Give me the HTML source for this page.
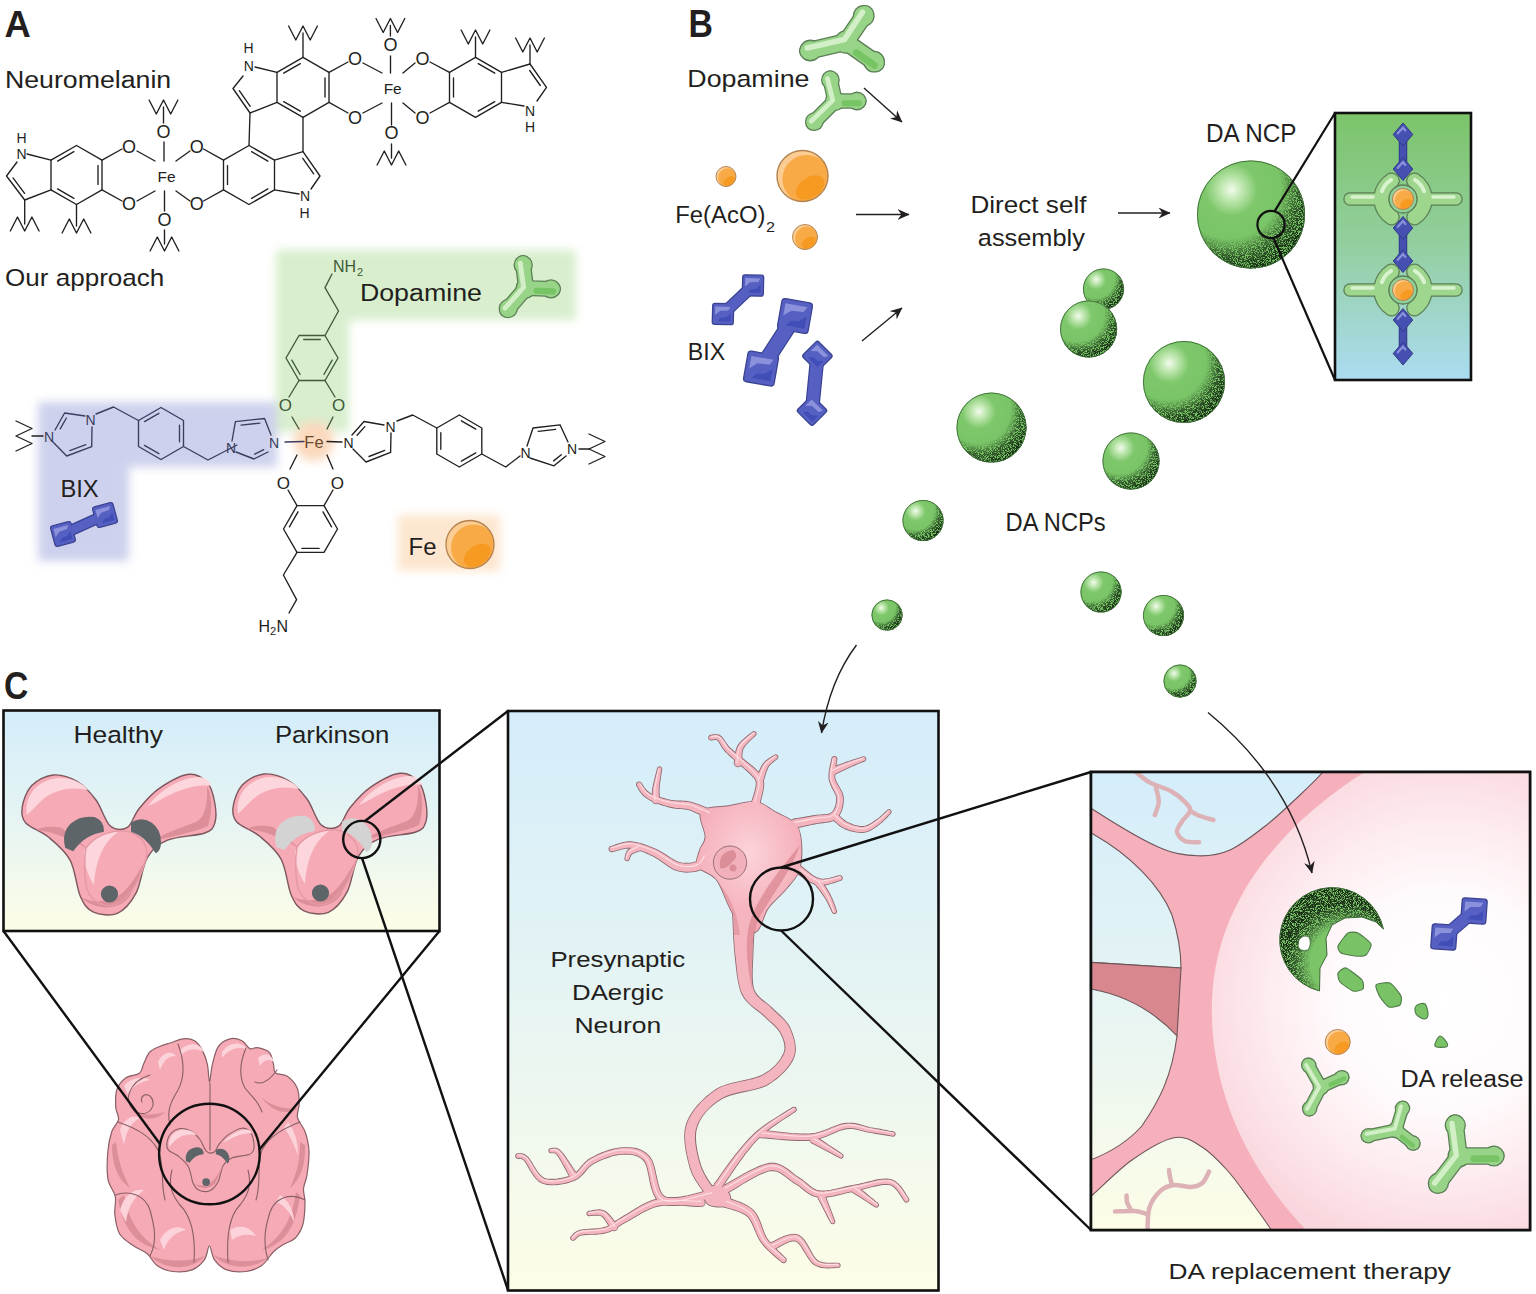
<!DOCTYPE html>
<html><head><meta charset="utf-8"><title>DA NCP figure</title>
<style>html,body{margin:0;padding:0;background:#fff;width:1536px;height:1294px;overflow:hidden} text{font-family:'Liberation Sans',sans-serif}</style>
</head><body>
<svg width="1536" height="1294" viewBox="0 0 1536 1294" style="display:block;font-family:'Liberation Sans',sans-serif">
<defs>
 <linearGradient id="bg" x1="0" y1="0" x2="0" y2="1">
  <stop offset="0" stop-color="#d4edfa"/>
  <stop offset="0.5" stop-color="#e6f4f3"/>
  <stop offset="1" stop-color="#fdfde7"/>
 </linearGradient>
 <linearGradient id="bgU" gradientUnits="userSpaceOnUse" x1="0" y1="772" x2="0" y2="1230">
  <stop offset="0" stop-color="#d4edfa"/>
  <stop offset="0.5" stop-color="#e6f4f3"/>
  <stop offset="1" stop-color="#fdfde7"/>
 </linearGradient>
 <linearGradient id="inset" x1="0" y1="0" x2="0" y2="1">
  <stop offset="0" stop-color="#7cc46a"/>
  <stop offset="0.5" stop-color="#93cfa0"/>
  <stop offset="1" stop-color="#abdcf2"/>
 </linearGradient>
 <radialGradient id="sph" cx="0.32" cy="0.27" r="0.8">
  <stop offset="0" stop-color="#f2fbec"/>
  <stop offset="0.12" stop-color="#c2e8b3"/>
  <stop offset="0.3" stop-color="#7ec86b"/>
  <stop offset="1" stop-color="#72bf5f"/>
 </radialGradient>
 <radialGradient id="shade" cx="0.3" cy="0.25" r="0.95">
  <stop offset="0" stop-color="#000" stop-opacity="0"/>
  <stop offset="0.5" stop-color="#000" stop-opacity="0"/>
  <stop offset="0.66" stop-color="#000" stop-opacity="0.65"/>
  <stop offset="0.82" stop-color="#000" stop-opacity="0.92"/>
  <stop offset="1" stop-color="#000" stop-opacity="1"/>
 </radialGradient>
 <filter id="stip" x="0" y="0" width="100%" height="100%" color-interpolation-filters="sRGB">
  <feTurbulence type="fractalNoise" baseFrequency="1.4" numOctaves="3" seed="7" result="n"/>
  <feColorMatrix in="n" type="matrix" values="0 0 0 0 0.06  0 0 0 0 0.13  0 0 0 0 0.06  -7 0 0 0 4.3" result="d"/>
  <feComposite in="d" in2="SourceAlpha" operator="in"/>
 </filter>
 <radialGradient id="fe" cx="0.38" cy="0.35" r="0.7">
  <stop offset="0" stop-color="#fcd9a6"/>
  <stop offset="0.35" stop-color="#f7ad4d"/>
  <stop offset="1" stop-color="#ef8a1f"/>
 </radialGradient>
 <radialGradient id="soma" gradientUnits="userSpaceOnUse" cx="1445" cy="1000" r="255">
  <stop offset="0" stop-color="#ffffff"/>
  <stop offset="0.42" stop-color="#fffbfc"/>
  <stop offset="0.7" stop-color="#fdebef"/>
  <stop offset="0.9" stop-color="#fbdee4"/>
  <stop offset="1" stop-color="#f9d6dd"/>
 </radialGradient>
 <radialGradient id="nsoma" cx="0.5" cy="0.4" r="0.6">
  <stop offset="0" stop-color="#fcd3da"/>
  <stop offset="1" stop-color="#f3a9b4"/>
 </radialGradient>
 <filter id="blur" x="-20%" y="-20%" width="140%" height="140%"><feGaussianBlur stdDeviation="5"/></filter>
 <filter id="blur2" x="-50%" y="-50%" width="200%" height="200%"><feGaussianBlur stdDeviation="8"/></filter>
 <marker id="arr" viewBox="0 0 10 10" refX="9.5" refY="5" markerWidth="12" markerHeight="12" markerUnits="userSpaceOnUse" orient="auto">
  <path d="M0,0.5 L10,5 L0,9.5 L3.2,5 z" fill="#231f20"/>
 </marker>
</defs>

<rect x="0" y="0" width="1536" height="1294" fill="#ffffff"/>
<g filter="url(#blur)">
<path d="M276,250 H576 V320 H349 V432 H276 Z" fill="#d8eecd"/>
<path d="M38,402 H277 V467 H129 V561 H38 Z" fill="#cdd1ed"/>
<rect x="398" y="515" width="102" height="56" fill="#fde6cf"/>
</g>
<circle cx="314" cy="441" r="20" fill="#fbd9bd" filter="url(#blur)"/>
<text x="4.42" y="36.50" font-size="37.00" font-weight="bold" fill="#231f20" textLength="26.28" lengthAdjust="spacingAndGlyphs">A</text>
<text x="4.90" y="88.10" font-size="24.41" font-weight="normal" fill="#231f20" textLength="166.32" lengthAdjust="spacingAndGlyphs">Neuromelanin</text>
<text x="4.92" y="285.70" font-size="23.63" font-weight="normal" fill="#231f20" textLength="159.48" lengthAdjust="spacingAndGlyphs">Our approach</text>
<polyline points="76.5,145.5 102.0,160.2 102.0,189.8 76.5,204.5 51.0,189.8 51.0,160.2 76.5,145.5" fill="none" stroke="#231f20" stroke-width="1.35" stroke-linejoin="round" stroke-linecap="round"/>
<line x1="57.6" y1="161.1" x2="73.9" y2="151.6" stroke="#231f20" stroke-width="1.35" stroke-linecap="round"/>
<line x1="98.0" y1="165.6" x2="98.0" y2="184.4" stroke="#231f20" stroke-width="1.35" stroke-linecap="round"/>
<line x1="73.9" y1="198.4" x2="57.6" y2="188.9" stroke="#231f20" stroke-width="1.35" stroke-linecap="round"/>
<polyline points="51.0,160.2 27.0,154.0" fill="none" stroke="#231f20" stroke-width="1.35" stroke-linejoin="round" stroke-linecap="round"/>
<text x="21.5" y="158.5" font-size="14" fill="#231f20" text-anchor="middle">N</text>
<text x="21.5" y="143.0" font-size="14" fill="#231f20" text-anchor="middle">H</text>
<polyline points="17.0,162.0 6.5,176.0 24.7,200.0 51.0,189.8" fill="none" stroke="#231f20" stroke-width="1.35" stroke-linejoin="round" stroke-linecap="round"/>
<line x1="13.0" y1="177.9" x2="24.6" y2="193.3" stroke="#231f20" stroke-width="1.35" stroke-linecap="round"/>
<line x1="24.7" y1="200.0" x2="24.7" y2="224.0" stroke="#231f20" stroke-width="1.35" stroke-linecap="round"/>
<polyline points="10.3,231.0 17.5,217.0 24.7,231.0 31.9,217.0 39.1,231.0" fill="none" stroke="#231f20" stroke-width="1.35" stroke-linejoin="round" stroke-linecap="round"/>
<line x1="76.5" y1="204.5" x2="76.5" y2="226.0" stroke="#231f20" stroke-width="1.35" stroke-linecap="round"/>
<polyline points="62.1,233.0 69.3,219.0 76.5,233.0 83.7,219.0 90.9,233.0" fill="none" stroke="#231f20" stroke-width="1.35" stroke-linejoin="round" stroke-linecap="round"/>
<line x1="102.0" y1="160.2" x2="122.0" y2="149.0" stroke="#231f20" stroke-width="1.35" stroke-linecap="round"/>
<line x1="102.0" y1="189.8" x2="122.0" y2="201.0" stroke="#231f20" stroke-width="1.35" stroke-linecap="round"/>
<text x="129.0" y="152.5" font-size="18" fill="#231f20" text-anchor="middle">O</text>
<text x="129.0" y="210.0" font-size="18" fill="#231f20" text-anchor="middle">O</text>
<text x="196.7" y="152.5" font-size="18" fill="#231f20" text-anchor="middle">O</text>
<text x="196.7" y="210.0" font-size="18" fill="#231f20" text-anchor="middle">O</text>
<text x="163.5" y="138.0" font-size="18" fill="#231f20" text-anchor="middle">O</text>
<text x="164.5" y="226.0" font-size="18" fill="#231f20" text-anchor="middle">O</text>
<text x="166.5" y="181.5" font-size="15.5" fill="#231f20" text-anchor="middle">Fe</text>
<line x1="137.0" y1="151.0" x2="155.0" y2="161.0" stroke="#231f20" stroke-width="1.35" stroke-linecap="round"/>
<line x1="176.0" y1="161.0" x2="190.0" y2="151.0" stroke="#231f20" stroke-width="1.35" stroke-linecap="round"/>
<line x1="137.0" y1="201.0" x2="155.0" y2="191.0" stroke="#231f20" stroke-width="1.35" stroke-linecap="round"/>
<line x1="176.0" y1="191.0" x2="190.0" y2="201.0" stroke="#231f20" stroke-width="1.35" stroke-linecap="round"/>
<line x1="164.0" y1="142.0" x2="164.0" y2="161.0" stroke="#231f20" stroke-width="1.35" stroke-linecap="round"/>
<line x1="164.5" y1="191.0" x2="164.5" y2="211.0" stroke="#231f20" stroke-width="1.35" stroke-linecap="round"/>
<line x1="163.5" y1="123.0" x2="163.5" y2="107.0" stroke="#231f20" stroke-width="1.35" stroke-linecap="round"/>
<polyline points="149.1,100.0 156.3,114.0 163.5,100.0 170.7,114.0 177.9,100.0" fill="none" stroke="#231f20" stroke-width="1.35" stroke-linejoin="round" stroke-linecap="round"/>
<line x1="164.5" y1="230.0" x2="164.5" y2="244.0" stroke="#231f20" stroke-width="1.35" stroke-linecap="round"/>
<polyline points="150.1,251.0 157.3,237.0 164.5,251.0 171.7,237.0 178.9,251.0" fill="none" stroke="#231f20" stroke-width="1.35" stroke-linejoin="round" stroke-linecap="round"/>
<line x1="223.5" y1="160.2" x2="203.5" y2="149.0" stroke="#231f20" stroke-width="1.35" stroke-linecap="round"/>
<line x1="223.5" y1="189.8" x2="203.5" y2="201.0" stroke="#231f20" stroke-width="1.35" stroke-linecap="round"/>
<polyline points="249.0,145.5 274.5,160.2 274.5,189.8 249.0,204.5 223.5,189.8 223.5,160.2 249.0,145.5" fill="none" stroke="#231f20" stroke-width="1.35" stroke-linejoin="round" stroke-linecap="round"/>
<line x1="227.5" y1="184.4" x2="227.5" y2="165.6" stroke="#231f20" stroke-width="1.35" stroke-linecap="round"/>
<line x1="251.6" y1="151.6" x2="267.9" y2="161.1" stroke="#231f20" stroke-width="1.35" stroke-linecap="round"/>
<line x1="267.9" y1="188.9" x2="251.6" y2="198.4" stroke="#231f20" stroke-width="1.35" stroke-linecap="round"/>
<polyline points="274.5,160.2 303.0,151.6 320.0,176.0 311.0,189.0" fill="none" stroke="#231f20" stroke-width="1.35" stroke-linejoin="round" stroke-linecap="round"/>
<line x1="302.8" y1="158.3" x2="313.7" y2="173.9" stroke="#231f20" stroke-width="1.35" stroke-linecap="round"/>
<text x="305.0" y="201.0" font-size="14" fill="#231f20" text-anchor="middle">N</text>
<text x="304.5" y="218.0" font-size="14" fill="#231f20" text-anchor="middle">H</text>
<line x1="299.0" y1="194.0" x2="274.5" y2="189.8" stroke="#231f20" stroke-width="1.35" stroke-linecap="round"/>
<line x1="249.0" y1="145.5" x2="250.0" y2="113.0" stroke="#231f20" stroke-width="1.35" stroke-linecap="round"/>
<line x1="303.0" y1="151.6" x2="303.0" y2="117.4" stroke="#231f20" stroke-width="1.35" stroke-linecap="round"/>
<polyline points="303.0,57.4 329.0,72.4 329.0,102.4 303.0,117.4 277.0,102.4 277.0,72.4 303.0,57.4" fill="none" stroke="#231f20" stroke-width="1.35" stroke-linejoin="round" stroke-linecap="round"/>
<line x1="283.7" y1="73.2" x2="300.3" y2="63.6" stroke="#231f20" stroke-width="1.35" stroke-linecap="round"/>
<line x1="325.0" y1="77.8" x2="325.0" y2="97.0" stroke="#231f20" stroke-width="1.35" stroke-linecap="round"/>
<line x1="300.3" y1="111.2" x2="283.7" y2="101.6" stroke="#231f20" stroke-width="1.35" stroke-linecap="round"/>
<polyline points="277.0,72.4 255.0,67.0" fill="none" stroke="#231f20" stroke-width="1.35" stroke-linejoin="round" stroke-linecap="round"/>
<text x="248.8" y="71.0" font-size="14" fill="#231f20" text-anchor="middle">N</text>
<text x="248.5" y="52.5" font-size="14" fill="#231f20" text-anchor="middle">H</text>
<polyline points="243.0,76.0 233.0,88.5 250.0,113.0 277.0,102.4" fill="none" stroke="#231f20" stroke-width="1.35" stroke-linejoin="round" stroke-linecap="round"/>
<line x1="239.3" y1="90.6" x2="250.2" y2="106.3" stroke="#231f20" stroke-width="1.35" stroke-linecap="round"/>
<line x1="303.0" y1="57.4" x2="303.0" y2="33.0" stroke="#231f20" stroke-width="1.35" stroke-linecap="round"/>
<polyline points="288.6,26.0 295.8,40.0 303.0,26.0 310.2,40.0 317.4,26.0" fill="none" stroke="#231f20" stroke-width="1.35" stroke-linejoin="round" stroke-linecap="round"/>
<line x1="329.0" y1="72.4" x2="348.0" y2="62.0" stroke="#231f20" stroke-width="1.35" stroke-linecap="round"/>
<line x1="329.0" y1="102.4" x2="348.0" y2="113.0" stroke="#231f20" stroke-width="1.35" stroke-linecap="round"/>
<text x="355.0" y="65.0" font-size="18" fill="#231f20" text-anchor="middle">O</text>
<text x="355.0" y="123.5" font-size="18" fill="#231f20" text-anchor="middle">O</text>
<text x="422.5" y="65.0" font-size="18" fill="#231f20" text-anchor="middle">O</text>
<text x="422.5" y="123.5" font-size="18" fill="#231f20" text-anchor="middle">O</text>
<text x="390.4" y="50.5" font-size="18" fill="#231f20" text-anchor="middle">O</text>
<text x="391.5" y="139.0" font-size="18" fill="#231f20" text-anchor="middle">O</text>
<text x="392.7" y="94.0" font-size="15.5" fill="#231f20" text-anchor="middle">Fe</text>
<line x1="363.0" y1="63.0" x2="382.0" y2="73.0" stroke="#231f20" stroke-width="1.35" stroke-linecap="round"/>
<line x1="403.0" y1="73.0" x2="415.0" y2="63.0" stroke="#231f20" stroke-width="1.35" stroke-linecap="round"/>
<line x1="363.0" y1="113.0" x2="382.0" y2="103.0" stroke="#231f20" stroke-width="1.35" stroke-linecap="round"/>
<line x1="403.0" y1="103.0" x2="415.0" y2="113.0" stroke="#231f20" stroke-width="1.35" stroke-linecap="round"/>
<line x1="390.5" y1="56.0" x2="390.5" y2="73.0" stroke="#231f20" stroke-width="1.35" stroke-linecap="round"/>
<line x1="391.5" y1="103.0" x2="391.5" y2="125.0" stroke="#231f20" stroke-width="1.35" stroke-linecap="round"/>
<line x1="390.4" y1="36.0" x2="390.4" y2="25.5" stroke="#231f20" stroke-width="1.35" stroke-linecap="round"/>
<polyline points="376.0,18.5 383.2,32.5 390.4,18.5 397.6,32.5 404.8,18.5" fill="none" stroke="#231f20" stroke-width="1.35" stroke-linejoin="round" stroke-linecap="round"/>
<line x1="391.5" y1="144.0" x2="391.5" y2="158.0" stroke="#231f20" stroke-width="1.35" stroke-linecap="round"/>
<polyline points="377.1,165.0 384.3,151.0 391.5,165.0 398.7,151.0 405.9,165.0" fill="none" stroke="#231f20" stroke-width="1.35" stroke-linejoin="round" stroke-linecap="round"/>
<line x1="430.0" y1="62.0" x2="449.5" y2="72.4" stroke="#231f20" stroke-width="1.35" stroke-linecap="round"/>
<line x1="430.0" y1="113.0" x2="449.5" y2="102.4" stroke="#231f20" stroke-width="1.35" stroke-linecap="round"/>
<polyline points="475.5,57.4 501.5,72.4 501.5,102.4 475.5,117.4 449.5,102.4 449.5,72.4 475.5,57.4" fill="none" stroke="#231f20" stroke-width="1.35" stroke-linejoin="round" stroke-linecap="round"/>
<line x1="453.5" y1="97.0" x2="453.5" y2="77.8" stroke="#231f20" stroke-width="1.35" stroke-linecap="round"/>
<line x1="478.2" y1="63.6" x2="494.8" y2="73.2" stroke="#231f20" stroke-width="1.35" stroke-linecap="round"/>
<line x1="494.8" y1="101.6" x2="478.2" y2="111.2" stroke="#231f20" stroke-width="1.35" stroke-linecap="round"/>
<polyline points="501.5,72.4 530.0,64.0 546.5,87.4 537.0,101.0" fill="none" stroke="#231f20" stroke-width="1.35" stroke-linejoin="round" stroke-linecap="round"/>
<line x1="529.7" y1="70.5" x2="540.3" y2="85.5" stroke="#231f20" stroke-width="1.35" stroke-linecap="round"/>
<text x="530.0" y="115.5" font-size="14" fill="#231f20" text-anchor="middle">N</text>
<text x="530.0" y="132.0" font-size="14" fill="#231f20" text-anchor="middle">H</text>
<line x1="524.0" y1="106.0" x2="501.5" y2="102.4" stroke="#231f20" stroke-width="1.35" stroke-linecap="round"/>
<line x1="475.5" y1="57.4" x2="475.5" y2="37.0" stroke="#231f20" stroke-width="1.35" stroke-linecap="round"/>
<polyline points="461.1,30.0 468.3,44.0 475.5,30.0 482.7,44.0 489.9,30.0" fill="none" stroke="#231f20" stroke-width="1.35" stroke-linejoin="round" stroke-linecap="round"/>
<line x1="530.0" y1="64.0" x2="530.0" y2="45.0" stroke="#231f20" stroke-width="1.35" stroke-linecap="round"/>
<polyline points="515.6,38.0 522.8,52.0 530.0,38.0 537.2,52.0 544.4,38.0" fill="none" stroke="#231f20" stroke-width="1.35" stroke-linejoin="round" stroke-linecap="round"/>
<polyline points="338.0,358.0 325.0,380.5 299.0,380.5 286.0,358.0 299.0,335.5 325.0,335.5 338.0,358.0" fill="none" stroke="#3f5a3a" stroke-width="1.35" stroke-linejoin="round" stroke-linecap="round"/>
<line x1="303.7" y1="339.5" x2="320.3" y2="339.5" stroke="#3f5a3a" stroke-width="1.35" stroke-linecap="round"/>
<line x1="300.1" y1="374.5" x2="291.8" y2="360.1" stroke="#3f5a3a" stroke-width="1.35" stroke-linecap="round"/>
<line x1="332.2" y1="360.1" x2="323.9" y2="374.5" stroke="#3f5a3a" stroke-width="1.35" stroke-linecap="round"/>
<polyline points="325.0,335.5 338.5,311.0 325.0,287.6 332.0,274.0" fill="none" stroke="#3f5a3a" stroke-width="1.35" stroke-linejoin="round" stroke-linecap="round"/>
<text x="333.0" y="272.0" font-size="16" fill="#3f5a3a" text-anchor="start">NH</text>
<text x="357.0" y="275.5" font-size="11" fill="#3f5a3a" text-anchor="start">2</text>
<line x1="299.0" y1="380.5" x2="289.0" y2="397.0" stroke="#3f5a3a" stroke-width="1.35" stroke-linecap="round"/>
<line x1="325.0" y1="380.5" x2="335.0" y2="397.0" stroke="#3f5a3a" stroke-width="1.35" stroke-linecap="round"/>
<text x="285.4" y="411.0" font-size="17" fill="#3f5a3a" text-anchor="middle">O</text>
<text x="338.6" y="411.0" font-size="17" fill="#3f5a3a" text-anchor="middle">O</text>
<line x1="292.0" y1="417.0" x2="299.0" y2="429.0" stroke="#3f5a3a" stroke-width="1.35" stroke-linecap="round"/>
<line x1="333.0" y1="417.0" x2="327.0" y2="429.0" stroke="#3f5a3a" stroke-width="1.35" stroke-linecap="round"/>
<text x="314.0" y="447.5" font-size="16.5" fill="#6b4a2e" text-anchor="middle">Fe</text>
<polyline points="337.5,529.0 324.0,552.4 297.0,552.4 283.5,529.0 297.0,505.6 324.0,505.6 337.5,529.0" fill="none" stroke="#231f20" stroke-width="1.35" stroke-linejoin="round" stroke-linecap="round"/>
<line x1="289.4" y1="526.8" x2="298.0" y2="511.8" stroke="#231f20" stroke-width="1.35" stroke-linecap="round"/>
<line x1="323.0" y1="511.8" x2="331.6" y2="526.8" stroke="#231f20" stroke-width="1.35" stroke-linecap="round"/>
<line x1="319.1" y1="548.4" x2="301.9" y2="548.4" stroke="#231f20" stroke-width="1.35" stroke-linecap="round"/>
<line x1="297.0" y1="505.6" x2="288.0" y2="490.0" stroke="#231f20" stroke-width="1.35" stroke-linecap="round"/>
<line x1="324.0" y1="505.6" x2="333.0" y2="490.0" stroke="#231f20" stroke-width="1.35" stroke-linecap="round"/>
<text x="283.4" y="488.5" font-size="17" fill="#231f20" text-anchor="middle">O</text>
<text x="337.4" y="488.5" font-size="17" fill="#231f20" text-anchor="middle">O</text>
<line x1="297.0" y1="455.0" x2="290.0" y2="469.0" stroke="#231f20" stroke-width="1.35" stroke-linecap="round"/>
<line x1="327.0" y1="455.0" x2="333.0" y2="469.0" stroke="#231f20" stroke-width="1.35" stroke-linecap="round"/>
<polyline points="297.0,552.4 283.4,575.0 296.6,599.6 289.0,613.0" fill="none" stroke="#231f20" stroke-width="1.35" stroke-linejoin="round" stroke-linecap="round"/>
<text x="258.5" y="632.0" font-size="16" fill="#231f20" text-anchor="start">H</text>
<text x="270.0" y="635.0" font-size="11" fill="#231f20" text-anchor="start">2</text>
<text x="276.5" y="632.0" font-size="16" fill="#231f20" text-anchor="start">N</text>
<line x1="327.0" y1="441.5" x2="342.0" y2="442.0" stroke="#231f20" stroke-width="1.35" stroke-linecap="round"/>
<text x="348.5" y="447.5" font-size="14" fill="#231f20" text-anchor="middle">N</text>
<polyline points="352.0,435.0 364.0,421.5 384.0,425.0" fill="none" stroke="#231f20" stroke-width="1.35" stroke-linejoin="round" stroke-linecap="round"/>
<line x1="357.1" y1="435.2" x2="364.8" y2="426.6" stroke="#231f20" stroke-width="1.35" stroke-linecap="round"/>
<text x="390.6" y="432.0" font-size="14" fill="#231f20" text-anchor="middle">N</text>
<polyline points="391.0,433.0 390.6,452.4 366.0,462.0 353.0,449.0" fill="none" stroke="#231f20" stroke-width="1.35" stroke-linejoin="round" stroke-linecap="round"/>
<line x1="384.7" y1="450.4" x2="369.0" y2="456.5" stroke="#231f20" stroke-width="1.35" stroke-linecap="round"/>
<polyline points="397.0,421.0 412.7,415.0 436.8,428.0" fill="none" stroke="#231f20" stroke-width="1.35" stroke-linejoin="round" stroke-linecap="round"/>
<polyline points="459.3,415.0 481.8,428.0 481.8,454.0 459.3,467.0 436.8,454.0 436.8,428.0 459.3,415.0" fill="none" stroke="#231f20" stroke-width="1.35" stroke-linejoin="round" stroke-linecap="round"/>
<line x1="461.4" y1="420.8" x2="475.8" y2="429.1" stroke="#231f20" stroke-width="1.35" stroke-linecap="round"/>
<line x1="475.8" y1="452.9" x2="461.4" y2="461.2" stroke="#231f20" stroke-width="1.35" stroke-linecap="round"/>
<line x1="440.8" y1="449.3" x2="440.8" y2="432.7" stroke="#231f20" stroke-width="1.35" stroke-linecap="round"/>
<polyline points="481.8,454.0 505.7,467.0 520.0,456.0" fill="none" stroke="#231f20" stroke-width="1.35" stroke-linejoin="round" stroke-linecap="round"/>
<text x="525.6" y="457.5" font-size="14" fill="#231f20" text-anchor="middle">N</text>
<polyline points="527.0,446.0 533.0,428.0 560.0,424.8 568.0,442.0" fill="none" stroke="#231f20" stroke-width="1.35" stroke-linejoin="round" stroke-linecap="round"/>
<line x1="538.3" y1="431.4" x2="555.6" y2="429.3" stroke="#231f20" stroke-width="1.35" stroke-linecap="round"/>
<text x="572.0" y="454.0" font-size="14" fill="#231f20" text-anchor="middle">N</text>
<polyline points="566.0,456.0 554.0,465.8 530.0,458.0" fill="none" stroke="#231f20" stroke-width="1.35" stroke-linejoin="round" stroke-linecap="round"/>
<line x1="561.3" y1="454.7" x2="553.6" y2="460.9" stroke="#231f20" stroke-width="1.35" stroke-linecap="round"/>
<line x1="579.0" y1="449.0" x2="590.0" y2="449.0" stroke="#231f20" stroke-width="1.35" stroke-linecap="round"/>
<polyline points="589.0,434.0 605.0,441.5 589.0,449.0 605.0,456.5 589.0,464.0" fill="none" stroke="#231f20" stroke-width="1.35" stroke-linejoin="round" stroke-linecap="round"/>
<line x1="285.0" y1="442.0" x2="304.0" y2="441.5" stroke="#3a3d5c" stroke-width="1.35" stroke-linecap="round"/>
<text x="274.0" y="447.5" font-size="14" fill="#3a3d5c" text-anchor="middle">N</text>
<polyline points="268.0,452.0 254.0,459.0 236.0,452.0" fill="none" stroke="#3a3d5c" stroke-width="1.35" stroke-linejoin="round" stroke-linecap="round"/>
<line x1="263.7" y1="449.7" x2="254.7" y2="454.2" stroke="#3a3d5c" stroke-width="1.35" stroke-linecap="round"/>
<text x="231.0" y="453.0" font-size="14" fill="#3a3d5c" text-anchor="middle">N</text>
<polyline points="232.0,441.0 235.4,421.7 264.6,418.5 271.0,435.0" fill="none" stroke="#3a3d5c" stroke-width="1.35" stroke-linejoin="round" stroke-linecap="round"/>
<line x1="241.1" y1="425.1" x2="259.8" y2="423.1" stroke="#3a3d5c" stroke-width="1.35" stroke-linecap="round"/>
<polyline points="237.0,445.0 208.0,460.0 183.5,446.5" fill="none" stroke="#3a3d5c" stroke-width="1.35" stroke-linejoin="round" stroke-linecap="round"/>
<polyline points="161.0,407.5 183.5,420.5 183.5,446.5 161.0,459.5 138.5,446.5 138.5,420.5 161.0,407.5" fill="none" stroke="#3a3d5c" stroke-width="1.35" stroke-linejoin="round" stroke-linecap="round"/>
<line x1="179.5" y1="425.2" x2="179.5" y2="441.8" stroke="#3a3d5c" stroke-width="1.35" stroke-linecap="round"/>
<line x1="158.9" y1="453.7" x2="144.5" y2="445.4" stroke="#3a3d5c" stroke-width="1.35" stroke-linecap="round"/>
<line x1="144.5" y1="421.6" x2="158.9" y2="413.3" stroke="#3a3d5c" stroke-width="1.35" stroke-linecap="round"/>
<polyline points="138.5,420.5 113.5,407.0 96.0,414.0" fill="none" stroke="#3a3d5c" stroke-width="1.35" stroke-linejoin="round" stroke-linecap="round"/>
<text x="90.6" y="425.0" font-size="14" fill="#3a3d5c" text-anchor="middle">N</text>
<polyline points="92.0,427.0 91.7,446.7 66.7,456.0 53.0,442.0" fill="none" stroke="#3a3d5c" stroke-width="1.35" stroke-linejoin="round" stroke-linecap="round"/>
<line x1="85.8" y1="444.6" x2="69.8" y2="450.6" stroke="#3a3d5c" stroke-width="1.35" stroke-linecap="round"/>
<text x="49.0" y="441.5" font-size="14" fill="#3a3d5c" text-anchor="middle">N</text>
<polyline points="55.0,430.0 64.6,413.0 85.0,416.0" fill="none" stroke="#3a3d5c" stroke-width="1.35" stroke-linejoin="round" stroke-linecap="round"/>
<line x1="60.2" y1="428.9" x2="66.4" y2="418.0" stroke="#3a3d5c" stroke-width="1.35" stroke-linecap="round"/>
<line x1="43.0" y1="436.0" x2="32.0" y2="436.0" stroke="#231f20" stroke-width="1.35" stroke-linecap="round"/>
<polyline points="16.0,421.0 32.0,428.5 16.0,436.0 32.0,443.5 16.0,451.0" fill="none" stroke="#231f20" stroke-width="1.35" stroke-linejoin="round" stroke-linecap="round"/>
<text x="359.90" y="300.90" font-size="24.02" font-weight="normal" fill="#231f20" textLength="122.06" lengthAdjust="spacingAndGlyphs">Dopamine</text>
<text x="60.40" y="496.70" font-size="24.15" font-weight="normal" fill="#231f20" textLength="38.30" lengthAdjust="spacingAndGlyphs">BIX</text>
<text x="408.60" y="554.60" font-size="24.28" font-weight="normal" fill="#231f20" textLength="27.92" lengthAdjust="spacingAndGlyphs">Fe</text>
<path d="M507.0,310.0 L526.0,288.0 L523.0,263.0 M526.0,288.0 L553.0,289.0" fill="none" stroke="#5b7f56" stroke-width="16.1" stroke-linecap="round" stroke-linejoin="round"/>
<circle cx="508.3" cy="308.5" r="9.7" fill="#5b7f56"/>
<circle cx="523.2" cy="265.0" r="9.7" fill="#5b7f56"/>
<circle cx="551.0" cy="288.9" r="9.7" fill="#5b7f56"/>
<circle cx="526.0" cy="288.0" r="10.5" fill="#5b7f56"/>
<path d="M507.0,310.0 L526.0,288.0 L523.0,263.0 M526.0,288.0 L553.0,289.0" fill="none" stroke="#98d487" stroke-width="13.5" stroke-linecap="round" stroke-linejoin="round"/>
<circle cx="508.3" cy="308.5" r="8.4" fill="#98d487"/>
<circle cx="523.2" cy="265.0" r="8.4" fill="#98d487"/>
<circle cx="551.0" cy="288.9" r="8.4" fill="#98d487"/>
<circle cx="526.0" cy="288.0" r="9.2" fill="#98d487"/>
<path d="M536.7,290.8 L552.9,291.4" fill="none" stroke="#72c25f" stroke-width="6.1" stroke-linecap="round" opacity="0.9"/>
<path d="M505.0,308.2 L523.6,287.3 L520.3,263.3" fill="none" stroke="#d5f0ca" stroke-width="4.9" stroke-linecap="round" stroke-linejoin="round" opacity="0.95"/>
<clipPath id="fec1"><circle cx="470" cy="544.5" r="24"/></clipPath>
<g clip-path="url(#fec1)">
<circle cx="470" cy="544.5" r="24" fill="#fbcd92"/>
<circle cx="473.8" cy="547.4" r="22.8" fill="#f8aa47"/>
<ellipse cx="477.2" cy="555.3" rx="14.9" ry="9.6" transform="rotate(-35 477.2 555.3)" fill="#f69a22"/>
</g>
<circle cx="470" cy="544.5" r="24" fill="none" stroke="#b4834f" stroke-width="1.3"/>
<line x1="63" y1="534" x2="105" y2="515" stroke="#3a4392" stroke-width="11.4"/>
<g transform="translate(63,534) rotate(-15.0)"><rect x="-10.5" y="-10.5" width="21.0" height="21.0" rx="2.3" fill="#5660c2" stroke="#3a4392" stroke-width="1.3"/></g>
<g transform="translate(105,515) rotate(-15.0)"><rect x="-10.5" y="-10.5" width="21.0" height="21.0" rx="2.3" fill="#5660c2" stroke="#3a4392" stroke-width="1.3"/></g>
<line x1="63" y1="534" x2="105" y2="515" stroke="#5660c2" stroke-width="9.0"/>
<g transform="translate(63,534) rotate(-15.0)"><path d="M-7.9,1.1 L-7.9,-7.3 L7.3,-7.3 L5.2,-3.7 L-3.1,-3.1 Z" fill="#9198de" opacity="0.9"/><path d="M7.9,-1.1 L7.9,7.3 L-5.2,7.3 L-2.1,3.7 L3.1,3.1 Z" fill="#3d4ab5" opacity="0.8"/></g>
<g transform="translate(105,515) rotate(-15.0)"><path d="M-7.9,1.1 L-7.9,-7.3 L7.3,-7.3 L5.2,-3.7 L-3.1,-3.1 Z" fill="#9198de" opacity="0.9"/><path d="M7.9,-1.1 L7.9,7.3 L-5.2,7.3 L-2.1,3.7 L3.1,3.1 Z" fill="#3d4ab5" opacity="0.8"/></g>
<text x="688.46" y="37.20" font-size="38.37" font-weight="bold" fill="#231f20" textLength="24.44" lengthAdjust="spacingAndGlyphs">B</text>
<text x="687.34" y="87.40" font-size="23.76" font-weight="normal" fill="#231f20" textLength="122.12" lengthAdjust="spacingAndGlyphs">Dopamine</text>
<path d="M808.0,51.0 L846.0,42.0 L865.0,14.0 M846.0,42.0 L876.0,63.0" fill="none" stroke="#5b7f56" stroke-width="18.1" stroke-linecap="round" stroke-linejoin="round"/>
<circle cx="810.3" cy="50.5" r="10.9" fill="#5b7f56"/>
<circle cx="863.7" cy="15.9" r="10.9" fill="#5b7f56"/>
<circle cx="874.1" cy="61.7" r="10.9" fill="#5b7f56"/>
<circle cx="846.0" cy="42.0" r="11.8" fill="#5b7f56"/>
<path d="M808.0,51.0 L846.0,42.0 L865.0,14.0 M846.0,42.0 L876.0,63.0" fill="none" stroke="#98d487" stroke-width="15.5" stroke-linecap="round" stroke-linejoin="round"/>
<circle cx="810.3" cy="50.5" r="9.6" fill="#98d487"/>
<circle cx="863.7" cy="15.9" r="9.6" fill="#98d487"/>
<circle cx="874.1" cy="61.7" r="9.6" fill="#98d487"/>
<circle cx="846.0" cy="42.0" r="10.5" fill="#98d487"/>
<path d="M856.4,52.7 L874.4,65.3" fill="none" stroke="#72c25f" stroke-width="7.0" stroke-linecap="round" opacity="0.9"/>
<path d="M807.3,48.0 L844.4,39.6 L862.4,12.3" fill="none" stroke="#d5f0ca" stroke-width="5.6" stroke-linecap="round" stroke-linejoin="round" opacity="0.95"/>
<path d="M813.0,123.0 L835.0,101.0 L830.0,78.0 M835.0,101.0 L859.0,101.0" fill="none" stroke="#5b7f56" stroke-width="15.6" stroke-linecap="round" stroke-linejoin="round"/>
<circle cx="814.4" cy="121.6" r="9.4" fill="#5b7f56"/>
<circle cx="830.4" cy="79.9" r="9.4" fill="#5b7f56"/>
<circle cx="857.0" cy="101.0" r="9.4" fill="#5b7f56"/>
<circle cx="835.0" cy="101.0" r="10.1" fill="#5b7f56"/>
<path d="M813.0,123.0 L835.0,101.0 L830.0,78.0 M835.0,101.0 L859.0,101.0" fill="none" stroke="#98d487" stroke-width="13.0" stroke-linecap="round" stroke-linejoin="round"/>
<circle cx="814.4" cy="121.6" r="8.1" fill="#98d487"/>
<circle cx="830.4" cy="79.9" r="8.1" fill="#98d487"/>
<circle cx="857.0" cy="101.0" r="8.1" fill="#98d487"/>
<circle cx="835.0" cy="101.0" r="8.8" fill="#98d487"/>
<path d="M844.6,103.3 L859.0,103.3" fill="none" stroke="#72c25f" stroke-width="5.9" stroke-linecap="round" opacity="0.9"/>
<path d="M811.2,121.2 L832.8,100.4 L827.5,78.6" fill="none" stroke="#d5f0ca" stroke-width="4.7" stroke-linecap="round" stroke-linejoin="round" opacity="0.95"/>
<clipPath id="fec2"><circle cx="726" cy="176.5" r="10"/></clipPath>
<g clip-path="url(#fec2)">
<circle cx="726" cy="176.5" r="10" fill="#fbcd92"/>
<circle cx="727.6" cy="177.7" r="9.5" fill="#f8aa47"/>
<ellipse cx="729.0" cy="181.0" rx="6.2" ry="4.0" transform="rotate(-35 729.0 181.0)" fill="#f69a22"/>
</g>
<circle cx="726" cy="176.5" r="10" fill="none" stroke="#b4834f" stroke-width="1.0"/>
<clipPath id="fec3"><circle cx="802.5" cy="176" r="25.5"/></clipPath>
<g clip-path="url(#fec3)">
<circle cx="802.5" cy="176" r="25.5" fill="#fbcd92"/>
<circle cx="806.6" cy="179.1" r="24.2" fill="#f8aa47"/>
<ellipse cx="810.1" cy="187.5" rx="15.8" ry="10.2" transform="rotate(-35 810.1 187.5)" fill="#f69a22"/>
</g>
<circle cx="802.5" cy="176" r="25.5" fill="none" stroke="#b4834f" stroke-width="1.4"/>
<clipPath id="fec4"><circle cx="805" cy="237" r="12.5"/></clipPath>
<g clip-path="url(#fec4)">
<circle cx="805" cy="237" r="12.5" fill="#fbcd92"/>
<circle cx="807.0" cy="238.5" r="11.9" fill="#f8aa47"/>
<ellipse cx="808.8" cy="242.6" rx="7.8" ry="5.0" transform="rotate(-35 808.8 242.6)" fill="#f69a22"/>
</g>
<circle cx="805" cy="237" r="12.5" fill="none" stroke="#b4834f" stroke-width="1.0"/>
<text x="675.22" y="223.30" font-size="24.41" font-weight="normal" fill="#231f20" textLength="90.18" lengthAdjust="spacingAndGlyphs">Fe(AcO)</text>
<text x="766" y="232" font-size="15.5" font-weight="normal" fill="#231f20" text-anchor="start" textLength="9" lengthAdjust="spacingAndGlyphs" >2</text>
<line x1="723" y1="314" x2="753" y2="285.5" stroke="#3a4392" stroke-width="12.4"/>
<g transform="translate(723,314) rotate(1.5)"><rect x="-10.5" y="-10.5" width="21.0" height="21.0" rx="2.3" fill="#5660c2" stroke="#3a4392" stroke-width="1.3"/></g>
<g transform="translate(753,285.5) rotate(1.5)"><rect x="-10.5" y="-10.5" width="21.0" height="21.0" rx="2.3" fill="#5660c2" stroke="#3a4392" stroke-width="1.3"/></g>
<line x1="723" y1="314" x2="753" y2="285.5" stroke="#5660c2" stroke-width="10.0"/>
<g transform="translate(723,314) rotate(1.5)"><path d="M-7.9,1.1 L-7.9,-7.3 L7.3,-7.3 L5.2,-3.7 L-3.1,-3.1 Z" fill="#9198de" opacity="0.9"/><path d="M7.9,-1.1 L7.9,7.3 L-5.2,7.3 L-2.1,3.7 L3.1,3.1 Z" fill="#3d4ab5" opacity="0.8"/></g>
<g transform="translate(753,285.5) rotate(1.5)"><path d="M-7.9,1.1 L-7.9,-7.3 L7.3,-7.3 L5.2,-3.7 L-3.1,-3.1 Z" fill="#9198de" opacity="0.9"/><path d="M7.9,-1.1 L7.9,7.3 L-5.2,7.3 L-2.1,3.7 L3.1,3.1 Z" fill="#3d4ab5" opacity="0.8"/></g>
<line x1="761" y1="368.6" x2="795" y2="316" stroke="#3a4392" stroke-width="16.4"/>
<g transform="translate(761,368.6) rotate(10.0)"><rect x="-15.5" y="-15.5" width="31.0" height="31.0" rx="3.4" fill="#5660c2" stroke="#3a4392" stroke-width="1.3"/></g>
<g transform="translate(795,316) rotate(10.0)"><rect x="-15.5" y="-15.5" width="31.0" height="31.0" rx="3.4" fill="#5660c2" stroke="#3a4392" stroke-width="1.3"/></g>
<line x1="761" y1="368.6" x2="795" y2="316" stroke="#5660c2" stroke-width="14.0"/>
<g transform="translate(761,368.6) rotate(10.0)"><path d="M-11.6,1.6 L-11.6,-10.8 L10.8,-10.8 L7.8,-5.4 L-4.6,-4.6 Z" fill="#9198de" opacity="0.9"/><path d="M11.6,-1.6 L11.6,10.8 L-7.8,10.8 L-3.1,5.4 L4.6,4.6 Z" fill="#3d4ab5" opacity="0.8"/></g>
<g transform="translate(795,316) rotate(10.0)"><path d="M-11.6,1.6 L-11.6,-10.8 L10.8,-10.8 L7.8,-5.4 L-4.6,-4.6 Z" fill="#9198de" opacity="0.9"/><path d="M11.6,-1.6 L11.6,10.8 L-7.8,10.8 L-3.1,5.4 L4.6,4.6 Z" fill="#3d4ab5" opacity="0.8"/></g>
<line x1="812" y1="410.7" x2="817.4" y2="356" stroke="#3a4392" stroke-width="14.4"/>
<g transform="translate(812,410.7) rotate(45.0)"><rect x="-11" y="-11" width="22" height="22" rx="2.4" fill="#5660c2" stroke="#3a4392" stroke-width="1.3"/></g>
<g transform="translate(817.4,356) rotate(45.0)"><rect x="-11" y="-11" width="22" height="22" rx="2.4" fill="#5660c2" stroke="#3a4392" stroke-width="1.3"/></g>
<line x1="812" y1="410.7" x2="817.4" y2="356" stroke="#5660c2" stroke-width="12.0"/>
<g transform="translate(812,410.7) rotate(45.0)"><path d="M-8.2,1.1 L-8.2,-7.7 L7.7,-7.7 L5.5,-3.8 L-3.3,-3.3 Z" fill="#9198de" opacity="0.9"/><path d="M8.2,-1.1 L8.2,7.7 L-5.5,7.7 L-2.2,3.8 L3.3,3.3 Z" fill="#3d4ab5" opacity="0.8"/></g>
<g transform="translate(817.4,356) rotate(45.0)"><path d="M-8.2,1.1 L-8.2,-7.7 L7.7,-7.7 L5.5,-3.8 L-3.3,-3.3 Z" fill="#9198de" opacity="0.9"/><path d="M8.2,-1.1 L8.2,7.7 L-5.5,7.7 L-2.2,3.8 L3.3,3.3 Z" fill="#3d4ab5" opacity="0.8"/></g>
<text x="687.84" y="359.90" font-size="24.81" font-weight="normal" fill="#231f20" textLength="37.36" lengthAdjust="spacingAndGlyphs">BIX</text>
<g stroke="#231f20" stroke-width="1.4" fill="none" marker-end="url(#arr)">
<line x1="864" y1="88" x2="902" y2="122"/>
<line x1="856" y1="214.5" x2="909" y2="214.5"/>
<line x1="862" y1="341" x2="902" y2="308"/>
<line x1="1118" y1="213" x2="1170" y2="213"/>
</g>
<text x="970.46" y="212.80" font-size="23.76" font-weight="normal" fill="#231f20" textLength="115.98" lengthAdjust="spacingAndGlyphs">Direct self</text>
<text x="977.86" y="246.00" font-size="23.76" font-weight="normal" fill="#231f20" textLength="106.96" lengthAdjust="spacingAndGlyphs">assembly</text>
<text x="1206.02" y="141.60" font-size="24.94" font-weight="normal" fill="#231f20" textLength="90.38" lengthAdjust="spacingAndGlyphs">DA NCP</text>
<circle cx="1251" cy="214.5" r="54" fill="url(#sph)"/>
<circle cx="1251" cy="214.5" r="54" fill="url(#shade)" filter="url(#stip)"/>
<circle cx="1251" cy="214.5" r="53.6" fill="none" stroke="#3f6b3a" stroke-width="0.9"/>
<circle cx="1103.5" cy="289" r="20.5" fill="url(#sph)"/>
<circle cx="1103.5" cy="289" r="20.5" fill="url(#shade)" filter="url(#stip)"/>
<circle cx="1103.5" cy="289" r="20.1" fill="none" stroke="#3f6b3a" stroke-width="0.9"/>
<circle cx="1088.6" cy="329" r="28.5" fill="url(#sph)"/>
<circle cx="1088.6" cy="329" r="28.5" fill="url(#shade)" filter="url(#stip)"/>
<circle cx="1088.6" cy="329" r="28.1" fill="none" stroke="#3f6b3a" stroke-width="0.9"/>
<circle cx="1184" cy="382" r="41" fill="url(#sph)"/>
<circle cx="1184" cy="382" r="41" fill="url(#shade)" filter="url(#stip)"/>
<circle cx="1184" cy="382" r="40.6" fill="none" stroke="#3f6b3a" stroke-width="0.9"/>
<circle cx="991.5" cy="427.6" r="35" fill="url(#sph)"/>
<circle cx="991.5" cy="427.6" r="35" fill="url(#shade)" filter="url(#stip)"/>
<circle cx="991.5" cy="427.6" r="34.6" fill="none" stroke="#3f6b3a" stroke-width="0.9"/>
<circle cx="1131" cy="461" r="28.5" fill="url(#sph)"/>
<circle cx="1131" cy="461" r="28.5" fill="url(#shade)" filter="url(#stip)"/>
<circle cx="1131" cy="461" r="28.1" fill="none" stroke="#3f6b3a" stroke-width="0.9"/>
<circle cx="923" cy="520.5" r="20.5" fill="url(#sph)"/>
<circle cx="923" cy="520.5" r="20.5" fill="url(#shade)" filter="url(#stip)"/>
<circle cx="923" cy="520.5" r="20.1" fill="none" stroke="#3f6b3a" stroke-width="0.9"/>
<circle cx="1101" cy="592" r="20.5" fill="url(#sph)"/>
<circle cx="1101" cy="592" r="20.5" fill="url(#shade)" filter="url(#stip)"/>
<circle cx="1101" cy="592" r="20.1" fill="none" stroke="#3f6b3a" stroke-width="0.9"/>
<circle cx="1163.5" cy="615.5" r="20.5" fill="url(#sph)"/>
<circle cx="1163.5" cy="615.5" r="20.5" fill="url(#shade)" filter="url(#stip)"/>
<circle cx="1163.5" cy="615.5" r="20.1" fill="none" stroke="#3f6b3a" stroke-width="0.9"/>
<circle cx="887" cy="615" r="15.5" fill="url(#sph)"/>
<circle cx="887" cy="615" r="15.5" fill="url(#shade)" filter="url(#stip)"/>
<circle cx="887" cy="615" r="15.1" fill="none" stroke="#3f6b3a" stroke-width="0.9"/>
<circle cx="1180" cy="681" r="16.5" fill="url(#sph)"/>
<circle cx="1180" cy="681" r="16.5" fill="url(#shade)" filter="url(#stip)"/>
<circle cx="1180" cy="681" r="16.1" fill="none" stroke="#3f6b3a" stroke-width="0.9"/>
<text x="1005.60" y="530.50" font-size="24.94" font-weight="normal" fill="#231f20" textLength="100.04" lengthAdjust="spacingAndGlyphs">DA NCPs</text>
<circle cx="1271" cy="224.5" r="13.6" fill="none" stroke="#111" stroke-width="2.2"/>
<line x1="1274.5" y1="211.3" x2="1335" y2="113" stroke="#111" stroke-width="2.2"/>
<line x1="1273.5" y1="238.2" x2="1335" y2="380" stroke="#111" stroke-width="2.2"/>
<rect x="1335" y="113" width="136" height="267" fill="url(#inset)" stroke="#111" stroke-width="2.6"/>
<line x1="1403" y1="134.5" x2="1403" y2="169" stroke="#303a8a" stroke-width="8.5"/>
<line x1="1403" y1="134.5" x2="1403" y2="169" stroke="#4650b0" stroke-width="6.5"/>
<path d="M1403,123.0 L1412.775,134.5 L1403,146.0 L1393.225,134.5 Z" fill="#4650b0" stroke="#303a8a" stroke-width="1" stroke-linejoin="round"/>
<path d="M1397.825,133.35 L1403,127.6 L1405.3,130.475" fill="none" stroke="#8b93dc" stroke-width="2.2" stroke-linecap="round"/>
<path d="M1403,157.5 L1412.775,169 L1403,180.5 L1393.225,169 Z" fill="#4650b0" stroke="#303a8a" stroke-width="1" stroke-linejoin="round"/>
<path d="M1397.825,167.85 L1403,162.1 L1405.3,164.975" fill="none" stroke="#8b93dc" stroke-width="2.2" stroke-linecap="round"/>
<path d="M1391.6,217.2 A21.5,21.5 0 0 1 1391.6,180.8" fill="none" stroke="#5b7f56" stroke-width="16.5" stroke-linecap="round"/>
<path d="M1350.0,199 L1381.5,199" fill="none" stroke="#5b7f56" stroke-width="13.5" stroke-linecap="round"/>
<path d="M1391.6,217.2 A21.5,21.5 0 0 1 1391.6,180.8" fill="none" stroke="#9dd68c" stroke-width="14" stroke-linecap="round"/>
<path d="M1350.0,199 L1381.5,199" fill="none" stroke="#9dd68c" stroke-width="11" stroke-linecap="round"/>
<path d="M1352.0,197 L1373.0,197" fill="none" stroke="#d9f2cf" stroke-width="3.5" stroke-linecap="round"/>
<path d="M1381.9,191.3 A22.5,22.5 0 0 1 1391.1,179.9" fill="none" stroke="#d9f2cf" stroke-width="4" stroke-linecap="round"/>
<path d="M1414.4,217.2 A21.5,21.5 0 0 0 1414.4,180.8" fill="none" stroke="#5b7f56" stroke-width="16.5" stroke-linecap="round"/>
<path d="M1456.0,199 L1424.5,199" fill="none" stroke="#5b7f56" stroke-width="13.5" stroke-linecap="round"/>
<path d="M1414.4,217.2 A21.5,21.5 0 0 0 1414.4,180.8" fill="none" stroke="#9dd68c" stroke-width="14" stroke-linecap="round"/>
<path d="M1456.0,199 L1424.5,199" fill="none" stroke="#9dd68c" stroke-width="11" stroke-linecap="round"/>
<path d="M1454.0,197 L1433.0,197" fill="none" stroke="#d9f2cf" stroke-width="3.5" stroke-linecap="round"/>
<path d="M1424.1,191.3 A22.5,22.5 0 0 0 1414.9,179.9" fill="none" stroke="#d9f2cf" stroke-width="4" stroke-linecap="round"/>
<circle cx="1403" cy="199" r="14" fill="#8fcf98" stroke="#5b7f56" stroke-width="1.3"/>
<clipPath id="fec5"><circle cx="1403" cy="199" r="10.5"/></clipPath>
<g clip-path="url(#fec5)">
<circle cx="1403" cy="199" r="10.5" fill="#fbcd92"/>
<circle cx="1404.7" cy="200.3" r="10.0" fill="#f8aa47"/>
<ellipse cx="1406.2" cy="203.7" rx="6.5" ry="4.2" transform="rotate(-35 1406.2 203.7)" fill="#f69a22"/>
</g>
<circle cx="1403" cy="199" r="10.5" fill="none" stroke="#b4834f" stroke-width="1.0"/>
<line x1="1403" y1="228" x2="1403" y2="261" stroke="#303a8a" stroke-width="8.5"/>
<line x1="1403" y1="228" x2="1403" y2="261" stroke="#4650b0" stroke-width="6.5"/>
<path d="M1403,216.5 L1412.775,228 L1403,239.5 L1393.225,228 Z" fill="#4650b0" stroke="#303a8a" stroke-width="1" stroke-linejoin="round"/>
<path d="M1397.825,226.85 L1403,221.1 L1405.3,223.975" fill="none" stroke="#8b93dc" stroke-width="2.2" stroke-linecap="round"/>
<path d="M1403,249.5 L1412.775,261 L1403,272.5 L1393.225,261 Z" fill="#4650b0" stroke="#303a8a" stroke-width="1" stroke-linejoin="round"/>
<path d="M1397.825,259.85 L1403,254.1 L1405.3,256.975" fill="none" stroke="#8b93dc" stroke-width="2.2" stroke-linecap="round"/>
<path d="M1391.6,308.2 A21.5,21.5 0 0 1 1391.6,271.8" fill="none" stroke="#5b7f56" stroke-width="16.5" stroke-linecap="round"/>
<path d="M1350.0,290 L1381.5,290" fill="none" stroke="#5b7f56" stroke-width="13.5" stroke-linecap="round"/>
<path d="M1391.6,308.2 A21.5,21.5 0 0 1 1391.6,271.8" fill="none" stroke="#9dd68c" stroke-width="14" stroke-linecap="round"/>
<path d="M1350.0,290 L1381.5,290" fill="none" stroke="#9dd68c" stroke-width="11" stroke-linecap="round"/>
<path d="M1352.0,288 L1373.0,288" fill="none" stroke="#d9f2cf" stroke-width="3.5" stroke-linecap="round"/>
<path d="M1381.9,282.3 A22.5,22.5 0 0 1 1391.1,270.9" fill="none" stroke="#d9f2cf" stroke-width="4" stroke-linecap="round"/>
<path d="M1414.4,308.2 A21.5,21.5 0 0 0 1414.4,271.8" fill="none" stroke="#5b7f56" stroke-width="16.5" stroke-linecap="round"/>
<path d="M1456.0,290 L1424.5,290" fill="none" stroke="#5b7f56" stroke-width="13.5" stroke-linecap="round"/>
<path d="M1414.4,308.2 A21.5,21.5 0 0 0 1414.4,271.8" fill="none" stroke="#9dd68c" stroke-width="14" stroke-linecap="round"/>
<path d="M1456.0,290 L1424.5,290" fill="none" stroke="#9dd68c" stroke-width="11" stroke-linecap="round"/>
<path d="M1454.0,288 L1433.0,288" fill="none" stroke="#d9f2cf" stroke-width="3.5" stroke-linecap="round"/>
<path d="M1424.1,282.3 A22.5,22.5 0 0 0 1414.9,270.9" fill="none" stroke="#d9f2cf" stroke-width="4" stroke-linecap="round"/>
<circle cx="1403" cy="290" r="14" fill="#8fcf98" stroke="#5b7f56" stroke-width="1.3"/>
<clipPath id="fec6"><circle cx="1403" cy="290" r="10.5"/></clipPath>
<g clip-path="url(#fec6)">
<circle cx="1403" cy="290" r="10.5" fill="#fbcd92"/>
<circle cx="1404.7" cy="291.3" r="10.0" fill="#f8aa47"/>
<ellipse cx="1406.2" cy="294.7" rx="6.5" ry="4.2" transform="rotate(-35 1406.2 294.7)" fill="#f69a22"/>
</g>
<circle cx="1403" cy="290" r="10.5" fill="none" stroke="#b4834f" stroke-width="1.0"/>
<line x1="1403" y1="320" x2="1403" y2="353.5" stroke="#303a8a" stroke-width="8.5"/>
<line x1="1403" y1="320" x2="1403" y2="353.5" stroke="#4650b0" stroke-width="6.5"/>
<path d="M1403,308.5 L1412.775,320 L1403,331.5 L1393.225,320 Z" fill="#4650b0" stroke="#303a8a" stroke-width="1" stroke-linejoin="round"/>
<path d="M1397.825,318.85 L1403,313.1 L1405.3,315.975" fill="none" stroke="#8b93dc" stroke-width="2.2" stroke-linecap="round"/>
<path d="M1403,342.0 L1412.775,353.5 L1403,365.0 L1393.225,353.5 Z" fill="#4650b0" stroke="#303a8a" stroke-width="1" stroke-linejoin="round"/>
<path d="M1397.825,352.35 L1403,346.6 L1405.3,349.475" fill="none" stroke="#8b93dc" stroke-width="2.2" stroke-linecap="round"/>
<text x="4.10" y="698.90" font-size="38.37" font-weight="bold" fill="#231f20" textLength="24.30" lengthAdjust="spacingAndGlyphs">C</text>
<rect x="3.5" y="710.5" width="436" height="220.5" fill="url(#bg)" stroke="#111" stroke-width="2.6"/>
<rect x="508" y="711" width="430.5" height="579.5" fill="url(#bg)" stroke="#111" stroke-width="2.6"/>
<rect x="1091" y="772" width="439" height="458" fill="url(#bg)" stroke="#111" stroke-width="2.6"/>
<text x="73.40" y="742.70" font-size="23.11" font-weight="normal" fill="#231f20" textLength="89.60" lengthAdjust="spacingAndGlyphs">Healthy</text>
<text x="274.90" y="742.70" font-size="23.11" font-weight="normal" fill="#231f20" textLength="114.38" lengthAdjust="spacingAndGlyphs">Parkinson</text>
<text x="550.40" y="966.60" font-size="21.80" font-weight="normal" fill="#231f20" textLength="134.74" lengthAdjust="spacingAndGlyphs">Presynaptic</text>
<text x="572.02" y="1000.40" font-size="21.80" font-weight="normal" fill="#231f20" textLength="91.68" lengthAdjust="spacingAndGlyphs">DAergic</text>
<text x="574.40" y="1033.20" font-size="21.80" font-weight="normal" fill="#231f20" textLength="86.94" lengthAdjust="spacingAndGlyphs">Neuron</text>
<text x="1168.46" y="1279.30" font-size="21.67" font-weight="normal" fill="#231f20" textLength="282.54" lengthAdjust="spacingAndGlyphs">DA replacement therapy</text>
<clipPath id="cb3"><rect x="1091" y="772" width="439" height="458"/></clipPath>
<g clip-path="url(#cb3)">
<rect x="1091" y="772" width="439" height="458" fill="#f5b0bc"/>
<path d="M1085.0,800.0 C1086.3,808.2 1080.9,801.7 1093.0,809.5 C1105.1,817.3 1140.2,839.0 1157.6,846.7 C1175.0,854.4 1185.5,855.2 1197.6,855.8 C1209.7,856.3 1218.5,855.1 1230.0,850.0 C1241.5,844.9 1254.9,834.2 1266.6,825.0 C1278.3,815.8 1290.6,803.8 1300.0,795.0 C1309.4,786.2 1318.0,777.8 1323.0,772.0 C1328.0,766.2 1369.7,762.0 1330.0,760.0 C1290.3,758.0 1125.8,753.3 1085.0,760.0 C1044.2,766.7 1083.7,791.8 1085.0,800.0 Z" fill="url(#bgU)" stroke="#6e5558" stroke-width="1.1"/>
<path d="M1085,830 L1093,834 C1130,855 1160,885 1172,915 C1180,940 1181,955 1181,968 L1085,962 Z" fill="url(#bgU)" stroke="#6e5558" stroke-width="1.1"/>
<path d="M1085,962 L1181,968 L1177,1036 Q1140,998 1085,988 Z" fill="#d8878f" stroke="#6e5558" stroke-width="1.1"/>
<path d="M1085,988 Q1140,996 1177,1036 C1172,1075 1160,1100 1141.8,1126 C1125,1145 1105,1155 1085,1162 Z" fill="url(#bgU)" stroke="#6e5558" stroke-width="1.1"/>
<path d="M1085.0,1200.0 C1086.3,1192.4 1085.2,1201.2 1093.0,1194.5 C1100.8,1187.8 1118.5,1169.5 1132.0,1160.0 C1145.5,1150.5 1162.3,1139.9 1174.0,1137.7 C1185.7,1135.5 1193.2,1141.6 1202.0,1147.0 C1210.8,1152.4 1219.0,1161.2 1227.0,1170.0 C1235.0,1178.8 1242.4,1189.7 1250.0,1200.0 C1257.6,1210.3 1268.7,1225.3 1272.4,1232.0 C1276.1,1238.7 1303.2,1238.7 1272.0,1240.0 C1240.8,1241.3 1116.2,1246.7 1085.0,1240.0 C1053.8,1233.3 1083.7,1207.6 1085.0,1200.0 Z" fill="url(#bgU)" stroke="#6e5558" stroke-width="1.1"/>
<path d="M1368,770 C1290,818 1216,895 1212,1000 C1209,1090 1248,1170 1308,1232 L1535,1232 L1535,770 Z" fill="url(#soma)"/>
<path d="M1136.0,772.0 C1138.3,773.7 1143.6,779.1 1149.6,782.4 C1155.5,785.6 1165.6,788.1 1171.7,791.5 C1177.8,794.9 1183.0,799.8 1186.0,803.0 C1189.0,806.2 1190.7,807.9 1190.0,811.0 C1189.3,814.1 1184.2,818.0 1182.0,821.5 C1179.8,825.0 1176.5,828.8 1177.0,832.0 C1177.5,835.2 1181.0,839.3 1184.7,841.0 C1188.4,842.7 1196.6,842.1 1199.0,842.3" fill="none" stroke="#dcb2b6" stroke-width="4.5" stroke-linecap="round"/>
<path d="M1156.0,787.6 C1156.5,790.0 1158.9,797.4 1158.7,802.0 C1158.5,806.6 1155.5,812.8 1154.8,815.0" fill="none" stroke="#dcb2b6" stroke-width="4.5" stroke-linecap="round"/>
<path d="M1190.0,811.0 C1191.7,811.8 1196.1,814.5 1200.0,816.0 C1203.9,817.5 1211.2,819.3 1213.4,820.0" fill="none" stroke="#dcb2b6" stroke-width="4.5" stroke-linecap="round"/>
<path d="M1147.5,1232.0 C1147.8,1228.0 1147.2,1214.6 1149.4,1207.7 C1151.6,1200.8 1156.6,1194.5 1160.7,1190.7 C1164.8,1186.9 1169.0,1185.6 1174.0,1185.0 C1179.0,1184.4 1186.3,1187.3 1191.0,1187.0 C1195.7,1186.7 1199.4,1185.5 1202.4,1183.0 C1205.4,1180.5 1207.9,1173.6 1209.0,1171.7" fill="none" stroke="#dcb2b6" stroke-width="4.5" stroke-linecap="round"/>
<path d="M1172.0,1185.0 C1171.7,1183.7 1170.5,1179.5 1170.0,1177.0 C1169.5,1174.5 1169.2,1171.2 1169.0,1170.0" fill="none" stroke="#dcb2b6" stroke-width="4.5" stroke-linecap="round"/>
<path d="M1147.0,1214.0 C1145.0,1213.5 1140.3,1211.4 1135.0,1211.0 C1129.7,1210.6 1118.3,1211.4 1115.0,1211.5" fill="none" stroke="#dcb2b6" stroke-width="4.5" stroke-linecap="round"/>
<path d="M1131.0,1210.0 C1130.3,1208.7 1127.7,1204.4 1127.0,1202.0 C1126.3,1199.6 1126.7,1196.5 1126.6,1195.4" fill="none" stroke="#dcb2b6" stroke-width="4.5" stroke-linecap="round"/>
</g>
<rect x="1091" y="772" width="439" height="458" fill="none" stroke="#111" stroke-width="2.6"/>
<radialGradient id="bshade" gradientUnits="userSpaceOnUse" cx="1345" cy="962" r="58"><stop offset="0" stop-color="#000" stop-opacity="0"/><stop offset="0.6" stop-color="#000" stop-opacity="0"/><stop offset="0.8" stop-color="#000" stop-opacity="0.55"/><stop offset="1" stop-color="#000" stop-opacity="0.9"/></radialGradient>
<path d="M1383.5,929 A52.5,52.5 0 1 0 1319.5,991 L1320,968 L1327,955 L1326,938 L1332,925 L1345,918 L1362,917 L1376,922 Z" fill="#7bc467"/>
<path d="M1383.5,929 A52.5,52.5 0 1 0 1319.5,991 L1320,968 L1327,955 L1326,938 L1332,925 L1345,918 L1362,917 L1376,922 Z" fill="url(#bshade)" filter="url(#stip)"/>
<path d="M1383.5,929 A52.5,52.5 0 1 0 1319.5,991 L1320,968 L1327,955 L1326,938 L1332,925 L1345,918 L1362,917 L1376,922 Z" fill="none" stroke="#3d6a38" stroke-width="1"/>
<path d="M1299,940 Q1303,934 1309,937 Q1312,944 1308,950 Q1300,952 1298,946 Z" fill="#ffffff" stroke="#3d6a38" stroke-width="0.8"/>
<path d="M1338.0,946.0 C1338.7,944.0 1346.0,934.3 1348.0,933.0 C1350.0,931.7 1355.7,931.9 1358.0,933.0 C1360.3,934.1 1370.2,941.8 1371.0,944.0 C1371.8,946.2 1367.6,953.8 1366.0,955.0 C1364.4,956.2 1357.5,956.2 1355.0,956.0 C1352.5,955.8 1342.7,954.0 1341.0,953.0 C1339.3,952.0 1337.3,948.0 1338.0,946.0 Z" fill="#79c266" stroke="#4e7b48" stroke-width="1.1" stroke-linejoin="round"/>
<path d="M1338.0,973.0 C1338.6,971.6 1343.6,967.3 1346.0,968.0 C1348.4,968.7 1360.3,977.9 1362.0,980.0 C1363.7,982.1 1363.9,987.9 1363.0,989.0 C1362.1,990.1 1355.3,991.7 1353.0,991.0 C1350.7,990.3 1341.5,983.8 1340.0,982.0 C1338.5,980.2 1337.4,974.4 1338.0,973.0 Z" fill="#79c266" stroke="#4e7b48" stroke-width="1.1" stroke-linejoin="round"/>
<path d="M1376.0,985.0 C1377.0,983.6 1387.5,981.9 1390.0,983.0 C1392.5,984.1 1400.0,993.8 1401.0,996.0 C1402.0,998.2 1401.2,1003.9 1400.0,1005.0 C1398.8,1006.1 1391.0,1007.8 1389.0,1007.0 C1387.0,1006.2 1381.3,999.2 1380.0,997.0 C1378.7,994.8 1375.0,986.4 1376.0,985.0 Z" fill="#79c266" stroke="#4e7b48" stroke-width="1.1" stroke-linejoin="round"/>
<path d="M1416.0,1006.0 C1417.5,1004.3 1423.0,1002.5 1425.0,1004.0 C1427.0,1005.5 1428.2,1012.5 1428.0,1015.0 C1427.8,1017.5 1426.0,1019.2 1424.0,1019.0 C1422.0,1018.8 1417.3,1016.2 1416.0,1014.0 C1414.7,1011.8 1414.5,1007.7 1416.0,1006.0 Z" fill="#79c266" stroke="#4e7b48" stroke-width="1.1" stroke-linejoin="round"/>
<path d="M1435.0,1046.0 C1434.0,1044.2 1438.0,1036.5 1440.0,1036.0 C1442.0,1035.5 1446.0,1041.2 1447.0,1043.0 C1448.0,1044.8 1448.0,1046.5 1446.0,1047.0 C1444.0,1047.5 1436.0,1047.8 1435.0,1046.0 Z" fill="#79c266" stroke="#4e7b48" stroke-width="1.1" stroke-linejoin="round"/>
<line x1="1444" y1="937" x2="1474" y2="911" stroke="#3a4392" stroke-width="13.4"/>
<g transform="translate(1444,937) rotate(4.1)"><rect x="-12.5" y="-12.5" width="25.0" height="25.0" rx="2.8" fill="#5660c2" stroke="#3a4392" stroke-width="1.3"/></g>
<g transform="translate(1474,911) rotate(4.1)"><rect x="-12.5" y="-12.5" width="25.0" height="25.0" rx="2.8" fill="#5660c2" stroke="#3a4392" stroke-width="1.3"/></g>
<line x1="1444" y1="937" x2="1474" y2="911" stroke="#5660c2" stroke-width="11.0"/>
<g transform="translate(1444,937) rotate(4.1)"><path d="M-9.4,1.2 L-9.4,-8.8 L8.8,-8.8 L6.2,-4.4 L-3.8,-3.8 Z" fill="#9198de" opacity="0.9"/><path d="M9.4,-1.2 L9.4,8.8 L-6.2,8.8 L-2.5,4.4 L3.8,3.8 Z" fill="#3d4ab5" opacity="0.8"/></g>
<g transform="translate(1474,911) rotate(4.1)"><path d="M-9.4,1.2 L-9.4,-8.8 L8.8,-8.8 L6.2,-4.4 L-3.8,-3.8 Z" fill="#9198de" opacity="0.9"/><path d="M9.4,-1.2 L9.4,8.8 L-6.2,8.8 L-2.5,4.4 L3.8,3.8 Z" fill="#3d4ab5" opacity="0.8"/></g>
<clipPath id="fec7"><circle cx="1337.7" cy="1042" r="12.5"/></clipPath>
<g clip-path="url(#fec7)">
<circle cx="1337.7" cy="1042" r="12.5" fill="#fbcd92"/>
<circle cx="1339.7" cy="1043.5" r="11.9" fill="#f8aa47"/>
<ellipse cx="1341.5" cy="1047.6" rx="7.8" ry="5.0" transform="rotate(-35 1341.5 1047.6)" fill="#f69a22"/>
</g>
<circle cx="1337.7" cy="1042" r="12.5" fill="none" stroke="#b4834f" stroke-width="1.0"/>
<path d="M1309.0,1110.0 L1321.0,1087.0 L1308.0,1064.0 M1321.0,1087.0 L1343.0,1077.0" fill="none" stroke="#5b7f56" stroke-width="13.1" stroke-linecap="round" stroke-linejoin="round"/>
<circle cx="1309.7" cy="1108.6" r="7.8" fill="#5b7f56"/>
<circle cx="1308.8" cy="1065.4" r="7.8" fill="#5b7f56"/>
<circle cx="1341.6" cy="1077.7" r="7.8" fill="#5b7f56"/>
<circle cx="1321.0" cy="1087.0" r="8.4" fill="#5b7f56"/>
<path d="M1309.0,1110.0 L1321.0,1087.0 L1308.0,1064.0 M1321.0,1087.0 L1343.0,1077.0" fill="none" stroke="#98d487" stroke-width="10.5" stroke-linecap="round" stroke-linejoin="round"/>
<circle cx="1309.7" cy="1108.6" r="6.5" fill="#98d487"/>
<circle cx="1308.8" cy="1065.4" r="6.5" fill="#98d487"/>
<circle cx="1341.6" cy="1077.7" r="6.5" fill="#98d487"/>
<circle cx="1321.0" cy="1087.0" r="7.1" fill="#98d487"/>
<path d="M1330.6,1084.7 L1343.8,1078.7" fill="none" stroke="#72c25f" stroke-width="4.7" stroke-linecap="round" opacity="0.9"/>
<path d="M1307.1,1109.0 L1319.2,1087.0 L1306.2,1065.0" fill="none" stroke="#d5f0ca" stroke-width="3.8" stroke-linecap="round" stroke-linejoin="round" opacity="0.95"/>
<path d="M1367.0,1136.0 L1396.0,1130.0 L1403.0,1107.0 M1396.0,1130.0 L1414.0,1144.0" fill="none" stroke="#5b7f56" stroke-width="13.1" stroke-linecap="round" stroke-linejoin="round"/>
<circle cx="1368.5" cy="1135.7" r="7.8" fill="#5b7f56"/>
<circle cx="1402.5" cy="1108.5" r="7.8" fill="#5b7f56"/>
<circle cx="1412.8" cy="1143.0" r="7.8" fill="#5b7f56"/>
<circle cx="1396.0" cy="1130.0" r="8.4" fill="#5b7f56"/>
<path d="M1367.0,1136.0 L1396.0,1130.0 L1403.0,1107.0 M1396.0,1130.0 L1414.0,1144.0" fill="none" stroke="#98d487" stroke-width="10.5" stroke-linecap="round" stroke-linejoin="round"/>
<circle cx="1368.5" cy="1135.7" r="6.5" fill="#98d487"/>
<circle cx="1402.5" cy="1108.5" r="6.5" fill="#98d487"/>
<circle cx="1412.8" cy="1143.0" r="6.5" fill="#98d487"/>
<circle cx="1396.0" cy="1130.0" r="7.1" fill="#98d487"/>
<path d="M1402.0,1137.1 L1412.8,1145.5" fill="none" stroke="#72c25f" stroke-width="4.7" stroke-linecap="round" opacity="0.9"/>
<path d="M1366.6,1133.9 L1394.8,1128.7 L1401.0,1106.4" fill="none" stroke="#d5f0ca" stroke-width="3.8" stroke-linecap="round" stroke-linejoin="round" opacity="0.95"/>
<path d="M1437.0,1185.0 L1459.0,1156.0 L1455.0,1123.0 M1459.0,1156.0 L1496.0,1156.0" fill="none" stroke="#5b7f56" stroke-width="17.6" stroke-linecap="round" stroke-linejoin="round"/>
<circle cx="1438.4" cy="1183.2" r="10.6" fill="#5b7f56"/>
<circle cx="1455.3" cy="1125.2" r="10.6" fill="#5b7f56"/>
<circle cx="1493.8" cy="1156.0" r="10.6" fill="#5b7f56"/>
<circle cx="1459.0" cy="1156.0" r="11.5" fill="#5b7f56"/>
<path d="M1437.0,1185.0 L1459.0,1156.0 L1455.0,1123.0 M1459.0,1156.0 L1496.0,1156.0" fill="none" stroke="#98d487" stroke-width="15.0" stroke-linecap="round" stroke-linejoin="round"/>
<circle cx="1438.4" cy="1183.2" r="9.3" fill="#98d487"/>
<circle cx="1455.3" cy="1125.2" r="9.3" fill="#98d487"/>
<circle cx="1493.8" cy="1156.0" r="9.3" fill="#98d487"/>
<circle cx="1459.0" cy="1156.0" r="10.2" fill="#98d487"/>
<path d="M1473.8,1158.7 L1496.0,1158.7" fill="none" stroke="#72c25f" stroke-width="6.8" stroke-linecap="round" opacity="0.9"/>
<path d="M1434.6,1183.2 L1456.3,1155.3 L1452.0,1123.4" fill="none" stroke="#d5f0ca" stroke-width="5.4" stroke-linecap="round" stroke-linejoin="round" opacity="0.95"/>
<text x="1400.40" y="1087.20" font-size="24.02" font-weight="normal" fill="#231f20" textLength="123.12" lengthAdjust="spacingAndGlyphs">DA release</text>
<path d="M856.5,645 Q830,680 821.5,733" fill="none" stroke="#231f20" stroke-width="1.4" marker-end="url(#arr)"/>
<path d="M1208,712.5 Q1290,780 1312,873" fill="none" stroke="#231f20" stroke-width="1.4" marker-end="url(#arr)"/>
<g>
<path d="M710.6,810.0 L709.2,809.4 L707.2,808.6 L704.9,807.6 L702.2,806.5 L699.4,805.3 L696.5,804.2 L693.6,803.3 L690.9,802.5 L688.3,802.0 L685.8,801.7 L683.4,801.5 L681.1,801.4 L678.8,801.4 L676.7,801.3 L674.6,801.1 L672.6,800.9 L670.5,800.5 L668.3,800.0 L666.0,799.5 L663.8,798.9 L661.7,798.3 L659.7,797.7 L657.8,797.1 L656.0,796.5 L654.5,795.8 L653.1,795.2 L651.8,794.6 L650.6,794.0 L649.6,793.4 L648.6,792.7 L647.6,792.0 L646.7,791.2 L645.8,790.4 L645.0,789.4 L644.1,788.3 L643.3,787.1 L642.6,786.0 L641.9,784.9 L641.3,784.0 L640.8,783.3 L640.0,782.5 L638.9,782.3 L637.8,782.7 L637.0,783.5 L636.8,784.6 L637.2,785.7 L637.5,786.3 L638.1,787.2 L638.7,788.4 L639.4,789.6 L640.3,791.0 L641.2,792.3 L642.2,793.6 L643.3,794.8 L644.4,795.8 L645.5,796.7 L646.7,797.6 L648.0,798.4 L649.3,799.2 L650.7,800.0 L652.3,800.8 L654.0,801.5 L655.8,802.3 L657.8,803.1 L659.9,803.8 L662.2,804.6 L664.5,805.3 L666.8,806.0 L669.1,806.6 L671.4,807.1 L673.8,807.6 L676.1,807.9 L678.4,808.1 L680.7,808.2 L682.9,808.4 L685.0,808.6 L687.1,809.0 L689.1,809.5 L691.3,810.2 L693.8,811.2 L696.4,812.4 L699.1,813.6 L701.6,814.8 L703.9,815.9 L705.9,816.9 L707.4,817.6 Z" fill="#8d6a70" stroke="#8d6a70" stroke-width="1.7" stroke-linejoin="round"/>
<path d="M659.4,799.9 L659.3,799.0 L659.2,797.8 L659.0,796.5 L658.9,795.1 L658.8,793.5 L658.7,791.8 L658.7,790.1 L658.8,788.3 L658.9,786.2 L659.2,783.7 L659.6,781.0 L660.0,778.2 L660.4,775.5 L660.8,773.0 L661.1,770.9 L661.4,769.4 L661.3,768.4 L660.8,767.6 L660.0,767.2 L659.0,767.3 L658.2,767.8 L657.8,768.6 L657.5,770.1 L656.9,772.2 L656.3,774.6 L655.6,777.3 L654.9,780.1 L654.2,782.9 L653.7,785.4 L653.2,787.7 L653.0,789.7 L652.8,791.7 L652.7,793.6 L652.6,795.3 L652.6,796.8 L652.6,798.2 L652.6,799.3 L652.6,800.1 Z" fill="#8d6a70" stroke="#8d6a70" stroke-width="1.7" stroke-linejoin="round"/>
<path d="M759.6,802.9 L760.0,801.6 L760.4,799.7 L761.1,797.4 L761.7,794.8 L762.3,792.1 L762.9,789.4 L763.3,786.9 L763.4,784.6 L763.3,782.7 L763.1,781.1 L762.8,779.6 L762.2,778.1 L761.5,776.7 L760.6,775.4 L759.6,774.1 L758.4,772.6 L756.9,771.0 L755.0,769.2 L753.0,767.5 L750.8,765.7 L748.6,763.9 L746.4,762.2 L744.4,760.5 L742.4,758.9 L740.6,757.3 L738.7,755.8 L736.8,754.3 L735.0,752.9 L733.3,751.4 L731.7,750.0 L730.1,748.7 L728.8,747.4 L727.6,746.0 L726.6,744.6 L725.6,743.1 L724.6,741.6 L723.6,740.1 L722.7,738.7 L721.6,737.4 L720.2,736.2 L718.7,735.4 L717.2,735.1 L715.7,735.0 L714.3,735.1 L713.1,735.2 L712.1,735.4 L711.4,735.6 L710.9,735.6 L709.9,735.9 L709.2,736.7 L709.0,737.7 L709.3,738.7 L710.1,739.4 L711.1,739.6 L711.9,739.6 L712.8,739.4 L713.7,739.3 L714.7,739.2 L715.6,739.1 L716.5,739.2 L717.2,739.4 L717.8,739.8 L718.4,740.4 L719.1,741.3 L719.9,742.5 L720.7,744.0 L721.6,745.6 L722.7,747.2 L723.8,749.0 L725.2,750.6 L726.7,752.2 L728.3,753.7 L729.9,755.3 L731.7,756.8 L733.4,758.4 L735.2,759.9 L737.0,761.5 L738.8,763.1 L740.7,764.8 L742.7,766.6 L744.9,768.4 L747.0,770.3 L749.0,772.1 L750.8,773.8 L752.3,775.4 L753.6,776.8 L754.6,778.0 L755.3,779.1 L755.9,780.0 L756.2,780.7 L756.4,781.3 L756.5,782.1 L756.6,783.1 L756.6,784.4 L756.4,786.0 L756.1,788.1 L755.5,790.4 L754.8,792.9 L754.1,795.4 L753.4,797.7 L752.8,799.6 L752.4,801.1 Z" fill="#8d6a70" stroke="#8d6a70" stroke-width="1.7" stroke-linejoin="round"/>
<path d="M741.4,763.3 L741.4,762.0 L741.5,760.2 L741.5,758.2 L741.5,756.1 L741.6,753.9 L741.9,751.8 L742.3,749.9 L742.9,748.3 L743.9,746.7 L745.3,744.8 L747.0,742.9 L748.9,741.0 L750.8,739.2 L752.6,737.5 L754.1,736.1 L755.2,735.0 L755.7,734.2 L755.8,733.3 L755.3,732.5 L754.5,732.0 L753.6,731.9 L752.8,732.4 L751.7,733.3 L750.1,734.5 L748.1,736.0 L746.0,737.7 L743.8,739.6 L741.7,741.5 L739.8,743.6 L738.3,745.7 L737.2,748.1 L736.4,750.6 L735.8,753.1 L735.4,755.6 L735.2,757.9 L735.0,759.9 L734.8,761.5 L734.6,762.7 Z" fill="#8d6a70" stroke="#8d6a70" stroke-width="1.7" stroke-linejoin="round"/>
<path d="M763.1,780.2 L763.5,779.0 L764.0,777.4 L764.6,775.6 L765.2,773.6 L765.8,771.5 L766.6,769.6 L767.3,767.8 L768.0,766.5 L768.9,765.3 L770.0,764.1 L771.2,762.9 L772.5,761.8 L773.8,760.8 L775.0,759.9 L776.1,759.1 L776.9,758.4 L777.4,757.7 L777.6,756.8 L777.2,755.9 L776.5,755.4 L775.6,755.2 L774.7,755.6 L774.0,756.1 L772.9,756.7 L771.5,757.5 L770.0,758.4 L768.5,759.5 L766.9,760.7 L765.3,762.0 L764.0,763.5 L762.7,765.3 L761.6,767.2 L760.6,769.3 L759.6,771.4 L758.7,773.4 L758.0,775.3 L757.3,776.7 L756.9,777.8 Z" fill="#8d6a70" stroke="#8d6a70" stroke-width="1.7" stroke-linejoin="round"/>
<path d="M795.8,827.5 L797.3,827.2 L799.4,826.8 L801.8,826.3 L804.6,825.7 L807.4,825.1 L810.3,824.4 L813.1,823.8 L815.7,823.3 L818.0,822.9 L820.4,822.6 L823.1,822.3 L825.8,822.0 L828.5,821.6 L831.2,820.9 L833.8,819.9 L836.2,818.3 L838.1,816.2 L839.6,813.9 L840.8,811.4 L841.7,808.8 L842.4,806.0 L842.8,803.3 L843.0,800.5 L843.0,797.7 L842.4,794.9 L841.4,792.1 L840.1,789.6 L838.7,787.1 L837.3,784.7 L836.0,782.4 L835.1,780.2 L834.6,778.2 L834.3,776.0 L834.4,773.4 L834.6,770.7 L835.0,768.0 L835.5,765.4 L835.9,763.0 L836.3,760.9 L836.6,759.4 L836.5,758.2 L835.8,757.3 L834.8,756.8 L833.6,756.9 L832.7,757.6 L832.2,758.6 L832.0,760.1 L831.5,762.1 L830.9,764.5 L830.4,767.2 L829.8,770.1 L829.5,773.1 L829.3,776.1 L829.4,779.0 L830.1,781.9 L831.2,784.6 L832.4,787.3 L833.8,789.8 L835.0,792.2 L836.1,794.4 L836.8,796.4 L837.0,798.3 L837.0,800.3 L836.7,802.5 L836.3,804.7 L835.7,806.9 L834.9,808.9 L833.9,810.6 L832.9,812.1 L831.8,813.1 L830.7,813.8 L829.2,814.4 L827.3,814.7 L825.0,815.0 L822.5,815.2 L819.8,815.3 L817.0,815.6 L814.3,815.9 L811.7,816.4 L808.9,816.9 L805.9,817.4 L803.1,817.9 L800.3,818.4 L797.8,818.8 L795.8,819.2 L794.2,819.5 Z" fill="#8d6a70" stroke="#8d6a70" stroke-width="1.7" stroke-linejoin="round"/>
<path d="M834.3,774.1 L835.6,773.5 L837.4,772.7 L839.5,771.7 L841.8,770.6 L844.2,769.4 L846.6,768.3 L848.9,767.2 L850.9,766.3 L852.8,765.5 L854.8,764.6 L856.7,763.8 L858.6,763.0 L860.4,762.3 L862.0,761.7 L863.3,761.1 L864.3,760.7 L865.1,760.2 L865.5,759.3 L865.4,758.4 L864.9,757.6 L864.0,757.2 L863.1,757.3 L862.0,757.6 L860.7,758.0 L859.0,758.5 L857.2,759.1 L855.2,759.7 L853.2,760.3 L851.1,761.0 L849.1,761.7 L846.9,762.4 L844.6,763.3 L842.0,764.2 L839.5,765.1 L837.1,765.9 L834.9,766.7 L833.1,767.4 L831.7,767.9 Z" fill="#8d6a70" stroke="#8d6a70" stroke-width="1.7" stroke-linejoin="round"/>
<path d="M831.7,818.2 L832.6,818.9 L833.7,820.0 L835.1,821.3 L836.7,822.7 L838.5,824.2 L840.5,825.7 L842.5,827.1 L844.7,828.2 L846.9,829.1 L849.1,829.9 L851.6,830.6 L854.1,831.2 L856.6,831.7 L859.1,832.0 L861.6,832.1 L864.0,831.9 L866.3,831.5 L868.5,830.7 L870.5,829.7 L872.5,828.6 L874.3,827.4 L876.0,826.2 L877.7,824.9 L879.3,823.7 L880.9,822.4 L882.6,821.0 L884.2,819.4 L885.8,817.8 L887.2,816.3 L888.4,815.0 L889.5,813.9 L890.3,813.1 L890.7,812.3 L890.7,811.4 L890.3,810.5 L889.5,810.1 L888.6,810.1 L887.7,810.5 L886.9,811.3 L885.8,812.4 L884.5,813.7 L883.0,815.0 L881.5,816.5 L879.9,817.9 L878.3,819.1 L876.7,820.3 L875.1,821.3 L873.4,822.5 L871.8,823.5 L870.1,824.5 L868.4,825.4 L866.7,826.1 L865.1,826.6 L863.4,826.9 L861.6,826.9 L859.7,826.7 L857.5,826.3 L855.4,825.8 L853.2,825.2 L851.1,824.4 L849.1,823.6 L847.3,822.8 L845.7,821.9 L844.2,820.7 L842.6,819.4 L841.1,818.0 L839.6,816.6 L838.3,815.2 L837.2,814.1 L836.3,813.2 Z" fill="#8d6a70" stroke="#8d6a70" stroke-width="1.7" stroke-linejoin="round"/>
<path d="M701.8,854.2 L701.1,855.2 L700.5,856.5 L699.8,857.7 L699.1,858.9 L698.4,860.1 L697.7,861.0 L697.0,861.6 L696.1,862.1 L694.7,862.5 L692.9,863.0 L690.8,863.4 L688.6,863.6 L686.3,863.7 L683.9,863.6 L681.5,863.3 L679.2,862.8 L676.8,862.0 L674.3,860.7 L671.5,859.1 L668.6,857.2 L665.6,855.2 L662.5,853.2 L659.3,851.4 L656.1,849.8 L653.0,848.5 L649.9,847.2 L646.8,846.0 L643.6,844.9 L640.4,844.0 L637.3,843.2 L634.2,842.6 L631.2,842.2 L628.1,842.2 L625.0,842.6 L622.0,843.2 L619.2,844.0 L616.6,844.9 L614.3,845.7 L612.5,846.3 L611.1,846.7 L610.0,847.3 L609.4,848.4 L609.4,849.6 L610.0,850.7 L611.1,851.3 L612.3,851.3 L613.8,850.9 L615.8,850.4 L618.1,849.7 L620.6,849.0 L623.2,848.4 L625.8,847.9 L628.4,847.7 L630.8,847.8 L633.3,848.2 L635.9,848.8 L638.7,849.6 L641.6,850.7 L644.5,851.8 L647.5,853.1 L650.4,854.4 L653.3,855.8 L656.0,857.3 L658.8,859.0 L661.7,861.0 L664.6,863.1 L667.6,865.2 L670.6,867.2 L673.7,868.9 L676.8,870.2 L680.0,871.0 L683.1,871.5 L686.1,871.8 L689.0,871.7 L691.9,871.5 L694.5,871.2 L696.9,870.6 L699.3,869.9 L701.6,868.8 L703.7,867.2 L705.3,865.4 L706.5,863.7 L707.5,862.1 L708.3,860.7 L708.8,859.8 L709.2,859.2 Z" fill="#8d6a70" stroke="#8d6a70" stroke-width="1.7" stroke-linejoin="round"/>
<path d="M637.5,844.0 L636.8,844.4 L635.9,845.0 L634.7,845.7 L633.4,846.4 L632.0,847.3 L630.6,848.2 L629.4,849.2 L628.3,850.2 L627.4,851.4 L626.8,852.6 L626.3,853.8 L626.0,855.0 L625.7,856.0 L625.6,856.9 L625.4,857.6 L625.3,858.1 L625.2,859.0 L625.6,859.9 L626.4,860.4 L627.3,860.5 L628.2,860.1 L628.7,859.3 L629.0,858.7 L629.2,858.0 L629.6,857.2 L629.9,856.3 L630.3,855.5 L630.8,854.8 L631.2,854.2 L631.7,853.8 L632.4,853.3 L633.4,852.8 L634.7,852.3 L636.0,851.7 L637.4,851.2 L638.6,850.8 L639.7,850.3 L640.5,850.0 Z" fill="#8d6a70" stroke="#8d6a70" stroke-width="1.7" stroke-linejoin="round"/>
<path d="M796.9,873.1 L798.4,874.0 L800.4,875.4 L802.9,877.1 L805.7,879.0 L808.7,880.9 L811.8,882.6 L815.0,883.9 L818.3,884.8 L821.5,885.0 L824.8,884.6 L828.1,883.9 L831.2,883.0 L834.2,882.1 L836.8,881.2 L838.9,880.4 L840.5,879.9 L841.4,879.4 L841.9,878.5 L841.9,877.5 L841.4,876.6 L840.5,876.1 L839.5,876.1 L837.8,876.4 L835.5,877.0 L832.9,877.7 L830.0,878.5 L827.1,879.0 L824.2,879.4 L821.5,879.5 L819.3,879.2 L817.2,878.4 L814.7,877.1 L812.1,875.4 L809.5,873.5 L807.0,871.5 L804.7,869.7 L802.7,868.0 L801.1,866.9 Z" fill="#8d6a70" stroke="#8d6a70" stroke-width="1.7" stroke-linejoin="round"/>
<path d="M815.2,883.9 L816.1,885.0 L817.2,886.6 L818.6,888.3 L820.1,890.3 L821.7,892.4 L823.2,894.4 L824.6,896.4 L825.8,898.2 L826.8,900.0 L827.9,902.0 L828.9,904.0 L829.9,906.0 L830.8,907.8 L831.5,909.6 L832.2,911.0 L832.7,912.1 L833.3,912.8 L834.2,913.2 L835.1,913.1 L835.8,912.5 L836.2,911.6 L836.1,910.7 L835.6,909.6 L835.1,908.1 L834.5,906.3 L833.8,904.3 L833.0,902.2 L832.1,900.0 L831.2,897.8 L830.2,895.8 L829.1,893.7 L827.8,891.4 L826.5,889.2 L825.1,886.9 L823.7,884.8 L822.5,882.9 L821.5,881.3 L820.8,880.1 Z" fill="#8d6a70" stroke="#8d6a70" stroke-width="1.7" stroke-linejoin="round"/>
<path d="M711.3,1190.3 L707.2,1191.2 L701.5,1192.6 L694.9,1194.3 L687.8,1196.1 L680.6,1197.4 L673.9,1198.2 L668.4,1198.1 L664.6,1197.0 L662.1,1194.8 L659.9,1190.9 L658.1,1185.7 L656.7,1179.7 L655.3,1173.4 L653.9,1167.2 L652.1,1161.6 L649.5,1157.2 L646.3,1154.0 L643.1,1151.7 L639.6,1150.0 L636.1,1148.9 L632.5,1148.3 L629.0,1148.0 L625.4,1148.0 L621.8,1148.1 L618.0,1148.5 L614.0,1149.3 L609.8,1150.4 L605.7,1151.8 L601.6,1153.4 L597.7,1155.1 L594.1,1156.9 L590.6,1158.7 L587.6,1160.8 L584.9,1163.2 L582.6,1165.8 L580.5,1168.3 L578.6,1170.7 L576.6,1172.7 L574.5,1174.4 L572.0,1175.7 L568.9,1176.8 L565.4,1177.9 L561.6,1178.7 L557.6,1179.4 L553.7,1179.7 L550.0,1179.7 L546.7,1179.3 L543.9,1178.5 L541.6,1177.1 L539.3,1175.0 L537.1,1172.1 L535.0,1168.9 L533.0,1165.6 L531.1,1162.4 L529.3,1159.6 L527.5,1157.4 L525.7,1155.9 L524.1,1154.9 L522.6,1154.3 L521.2,1154.0 L520.0,1154.0 L519.1,1154.1 L518.7,1154.1 L518.3,1154.0 L517.3,1154.1 L516.4,1154.7 L516.0,1155.7 L516.1,1156.7 L516.7,1157.6 L517.7,1158.0 L518.5,1158.1 L519.3,1158.1 L520.0,1158.0 L520.7,1158.0 L521.4,1158.2 L522.3,1158.5 L523.3,1159.2 L524.5,1160.2 L525.9,1162.0 L527.5,1164.6 L529.3,1167.7 L531.3,1171.2 L533.5,1174.6 L536.0,1177.9 L538.8,1180.7 L542.1,1182.7 L545.7,1183.8 L549.7,1184.3 L553.9,1184.4 L558.1,1184.1 L562.4,1183.5 L566.6,1182.6 L570.4,1181.5 L574.0,1180.3 L577.2,1178.6 L579.9,1176.5 L582.3,1174.1 L584.5,1171.6 L586.5,1169.2 L588.6,1166.9 L590.8,1165.0 L593.4,1163.3 L596.5,1161.7 L600.0,1160.1 L603.7,1158.5 L607.6,1157.1 L611.4,1155.8 L615.2,1154.8 L618.8,1154.2 L622.2,1153.9 L625.4,1153.8 L628.7,1153.9 L631.8,1154.2 L634.7,1154.7 L637.4,1155.6 L639.9,1156.9 L642.3,1158.6 L644.5,1160.8 L646.3,1164.1 L647.8,1168.8 L649.1,1174.7 L650.3,1181.1 L651.8,1187.5 L653.8,1193.6 L656.8,1199.0 L661.4,1203.0 L667.4,1204.9 L674.2,1205.1 L681.6,1204.4 L689.2,1203.1 L696.6,1201.4 L703.3,1199.7 L708.8,1198.4 L712.7,1197.7 Z" fill="#8d6a70" stroke="#8d6a70" stroke-width="1.7" stroke-linejoin="round"/>
<path d="M575.9,1173.2 L574.7,1171.5 L573.0,1169.0 L571.1,1166.0 L568.9,1162.7 L566.6,1159.4 L564.5,1156.3 L562.4,1153.6 L560.6,1151.5 L559.0,1150.1 L557.3,1149.1 L555.7,1148.6 L554.2,1148.5 L553.0,1148.6 L552.1,1148.7 L551.5,1148.8 L551.2,1148.8 L550.2,1149.0 L549.5,1149.6 L549.2,1150.4 L549.4,1151.4 L550.0,1152.1 L550.8,1152.4 L551.6,1152.5 L552.5,1152.4 L553.3,1152.4 L554.0,1152.4 L554.7,1152.5 L555.5,1152.8 L556.4,1153.4 L557.4,1154.5 L558.7,1156.3 L560.4,1159.0 L562.2,1162.2 L564.1,1165.6 L566.0,1169.0 L567.6,1172.2 L569.1,1174.9 L570.1,1176.8 Z" fill="#8d6a70" stroke="#8d6a70" stroke-width="1.7" stroke-linejoin="round"/>
<path d="M701.1,1198.8 L697.8,1198.7 L693.3,1198.5 L687.8,1198.2 L681.7,1198.0 L675.3,1197.9 L668.9,1198.0 L662.8,1198.5 L657.3,1199.4 L652.3,1200.8 L647.5,1202.8 L642.9,1205.0 L638.6,1207.5 L634.4,1210.0 L630.6,1212.5 L627.0,1214.7 L623.7,1216.6 L620.6,1218.4 L617.9,1220.1 L615.5,1221.7 L613.4,1223.2 L611.4,1224.6 L609.4,1225.7 L607.3,1226.8 L605.0,1227.7 L602.3,1228.3 L599.2,1228.8 L595.9,1229.2 L592.5,1229.4 L589.2,1229.6 L586.0,1229.8 L583.1,1230.1 L580.5,1230.5 L578.4,1231.2 L576.6,1232.1 L575.2,1233.0 L574.1,1234.0 L573.2,1234.9 L572.5,1235.6 L572.1,1236.1 L571.7,1236.5 L571.1,1237.3 L571.0,1238.4 L571.5,1239.3 L572.3,1239.9 L573.4,1240.0 L574.3,1239.5 L574.9,1239.0 L575.6,1238.3 L576.2,1237.6 L576.8,1237.0 L577.6,1236.3 L578.6,1235.7 L579.9,1235.1 L581.5,1234.7 L583.6,1234.3 L586.3,1234.1 L589.4,1234.0 L592.8,1233.9 L596.3,1233.8 L599.8,1233.5 L603.2,1233.1 L606.4,1232.3 L609.2,1231.4 L611.7,1230.2 L614.1,1228.9 L616.3,1227.5 L618.5,1226.1 L620.8,1224.6 L623.3,1223.0 L626.3,1221.4 L629.8,1219.5 L633.5,1217.3 L637.4,1215.0 L641.5,1212.6 L645.7,1210.4 L649.9,1208.4 L654.3,1206.8 L658.7,1205.6 L663.5,1205.0 L669.2,1204.7 L675.2,1204.7 L681.4,1205.0 L687.4,1205.3 L692.8,1205.8 L697.4,1206.1 L700.9,1206.2 Z" fill="#8d6a70" stroke="#8d6a70" stroke-width="1.7" stroke-linejoin="round"/>
<path d="M616.7,1225.0 L615.9,1224.0 L614.8,1222.5 L613.4,1220.6 L611.8,1218.5 L610.1,1216.4 L608.2,1214.4 L606.3,1212.7 L604.2,1211.3 L601.9,1210.5 L599.6,1210.2 L597.3,1210.3 L595.1,1210.6 L593.1,1210.9 L591.3,1211.3 L589.9,1211.6 L588.8,1211.7 L588.0,1212.0 L587.4,1212.7 L587.2,1213.7 L587.5,1214.5 L588.2,1215.1 L589.2,1215.3 L590.3,1215.2 L591.9,1215.1 L593.6,1214.9 L595.5,1214.8 L597.4,1214.7 L599.2,1214.9 L600.7,1215.2 L601.8,1215.7 L602.9,1216.6 L604.2,1218.1 L605.6,1219.9 L607.0,1222.0 L608.3,1224.1 L609.4,1226.0 L610.5,1227.8 L611.3,1229.0 Z" fill="#8d6a70" stroke="#8d6a70" stroke-width="1.7" stroke-linejoin="round"/>
<path d="M721.1,1188.1 L722.7,1185.7 L725.0,1182.3 L727.6,1178.3 L730.5,1174.0 L733.6,1169.4 L736.7,1164.9 L739.7,1160.7 L742.5,1156.9 L745.0,1153.6 L747.5,1150.4 L749.9,1147.4 L752.3,1144.5 L754.8,1141.7 L757.4,1139.0 L760.2,1136.2 L763.3,1133.4 L766.9,1130.5 L771.1,1127.3 L775.7,1124.1 L780.4,1120.9 L784.9,1117.9 L789.1,1115.2 L792.5,1112.9 L795.1,1111.2 L795.8,1110.4 L796.0,1109.4 L795.7,1108.4 L794.9,1107.7 L793.9,1107.5 L792.9,1107.8 L790.3,1109.5 L786.8,1111.6 L782.6,1114.2 L777.9,1117.1 L773.1,1120.1 L768.3,1123.3 L763.8,1126.4 L759.9,1129.4 L756.6,1132.2 L753.5,1135.0 L750.7,1137.9 L748.0,1140.7 L745.4,1143.6 L742.8,1146.6 L740.2,1149.8 L737.5,1153.1 L734.5,1156.8 L731.3,1161.0 L728.0,1165.5 L724.8,1170.0 L721.7,1174.3 L719.0,1178.2 L716.7,1181.5 L714.9,1183.9 Z" fill="#8d6a70" stroke="#8d6a70" stroke-width="1.7" stroke-linejoin="round"/>
<path d="M761.3,1137.4 L765.2,1137.6 L770.5,1138.1 L776.8,1138.7 L783.8,1139.3 L791.2,1139.8 L798.4,1140.1 L805.2,1140.1 L811.3,1139.8 L816.7,1138.9 L821.8,1137.4 L826.6,1135.7 L831.1,1133.8 L835.3,1132.0 L839.2,1130.3 L842.9,1129.1 L846.3,1128.3 L849.6,1128.1 L852.6,1128.2 L855.4,1128.6 L858.2,1129.2 L861.0,1129.9 L863.8,1130.7 L866.6,1131.4 L869.6,1132.0 L872.7,1132.5 L876.0,1133.1 L879.4,1133.6 L882.7,1134.1 L885.8,1134.6 L888.6,1135.1 L890.9,1135.5 L892.7,1135.8 L893.6,1135.7 L894.4,1135.2 L894.8,1134.3 L894.7,1133.4 L894.2,1132.6 L893.3,1132.2 L891.5,1131.9 L889.2,1131.5 L886.4,1130.9 L883.3,1130.4 L880.0,1129.7 L876.7,1129.1 L873.4,1128.5 L870.4,1128.0 L867.6,1127.3 L864.9,1126.6 L862.2,1125.7 L859.3,1124.9 L856.3,1124.2 L853.0,1123.7 L849.5,1123.5 L845.7,1123.7 L841.6,1124.4 L837.5,1125.7 L833.4,1127.3 L829.1,1129.1 L824.7,1130.8 L820.2,1132.3 L815.6,1133.5 L810.7,1134.2 L805.1,1134.4 L798.6,1134.2 L791.6,1133.8 L784.4,1133.1 L777.5,1132.3 L771.1,1131.6 L765.8,1131.0 L761.9,1130.6 Z" fill="#8d6a70" stroke="#8d6a70" stroke-width="1.7" stroke-linejoin="round"/>
<path d="M811.8,1142.5 L814.1,1143.8 L817.5,1145.6 L821.6,1147.7 L825.9,1150.0 L830.3,1152.3 L834.3,1154.5 L837.7,1156.3 L840.1,1157.5 L841.0,1157.8 L841.9,1157.6 L842.5,1156.9 L842.8,1156.0 L842.6,1155.1 L841.9,1154.5 L839.7,1153.0 L836.5,1150.8 L832.7,1148.3 L828.6,1145.6 L824.5,1142.8 L820.7,1140.3 L817.5,1138.2 L815.2,1136.7 Z" fill="#8d6a70" stroke="#8d6a70" stroke-width="1.7" stroke-linejoin="round"/>
<path d="M727.8,1192.3 L731.4,1190.3 L736.2,1187.4 L741.9,1183.9 L748.1,1180.2 L754.4,1176.7 L760.6,1173.6 L766.1,1171.4 L770.4,1170.3 L773.9,1170.3 L777.0,1171.0 L780.1,1172.3 L783.1,1174.2 L786.0,1176.4 L789.1,1178.8 L792.2,1181.2 L795.4,1183.2 L798.2,1184.9 L800.7,1186.8 L803.1,1188.8 L805.6,1190.8 L808.3,1192.8 L811.3,1194.6 L814.8,1196.0 L818.6,1196.8 L822.9,1197.0 L827.4,1196.6 L832.0,1195.9 L836.8,1194.8 L841.6,1193.7 L846.3,1192.5 L851.0,1191.4 L855.5,1190.5 L860.1,1189.5 L864.8,1188.3 L869.6,1187.0 L874.3,1185.8 L878.7,1184.8 L882.8,1184.1 L886.5,1183.9 L889.5,1184.2 L892.0,1185.1 L894.4,1186.8 L896.7,1189.1 L898.7,1191.7 L900.6,1194.5 L902.2,1197.1 L903.7,1199.4 L904.9,1201.0 L905.7,1201.6 L906.7,1201.8 L907.7,1201.4 L908.3,1200.6 L908.5,1199.6 L908.1,1198.6 L907.0,1197.1 L905.7,1195.0 L904.1,1192.3 L902.1,1189.3 L899.9,1186.3 L897.2,1183.6 L894.1,1181.3 L890.5,1179.8 L886.6,1179.4 L882.3,1179.6 L877.8,1180.2 L873.2,1181.2 L868.4,1182.4 L863.7,1183.6 L859.0,1184.7 L854.5,1185.5 L849.9,1186.4 L845.1,1187.4 L840.4,1188.5 L835.6,1189.6 L831.0,1190.5 L826.7,1191.1 L822.8,1191.4 L819.4,1191.2 L816.5,1190.5 L813.9,1189.4 L811.6,1188.0 L809.3,1186.2 L806.9,1184.2 L804.4,1182.1 L801.6,1179.9 L798.6,1178.0 L795.8,1176.1 L792.9,1173.9 L789.9,1171.5 L786.7,1169.0 L783.1,1166.7 L779.1,1164.8 L774.6,1163.7 L769.6,1163.7 L764.0,1165.0 L757.8,1167.4 L751.2,1170.5 L744.6,1174.1 L738.2,1177.7 L732.4,1181.1 L727.7,1183.8 L724.2,1185.7 Z" fill="#8d6a70" stroke="#8d6a70" stroke-width="1.7" stroke-linejoin="round"/>
<path d="M818.6,1198.4 L819.7,1200.4 L821.1,1203.2 L822.9,1206.7 L824.8,1210.4 L826.8,1214.1 L828.5,1217.5 L830.0,1220.3 L831.1,1222.3 L831.6,1223.1 L832.5,1223.4 L833.4,1223.2 L834.2,1222.7 L834.5,1221.8 L834.3,1220.9 L833.5,1218.7 L832.4,1215.7 L831.0,1212.1 L829.6,1208.2 L828.1,1204.3 L826.7,1200.7 L825.6,1197.7 L824.8,1195.6 Z" fill="#8d6a70" stroke="#8d6a70" stroke-width="1.7" stroke-linejoin="round"/>
<path d="M852.5,1191.7 L854.4,1193.0 L857.1,1194.7 L860.4,1196.8 L863.9,1199.1 L867.4,1201.4 L870.7,1203.5 L873.4,1205.2 L875.3,1206.5 L876.2,1206.8 L877.1,1206.6 L877.9,1206.1 L878.2,1205.2 L878.0,1204.3 L877.5,1203.5 L875.7,1202.1 L873.2,1200.0 L870.2,1197.6 L867.0,1194.9 L863.7,1192.2 L860.8,1189.8 L858.3,1187.7 L856.5,1186.3 Z" fill="#8d6a70" stroke="#8d6a70" stroke-width="1.7" stroke-linejoin="round"/>
<path d="M724.4,1206.7 L726.5,1207.4 L729.4,1208.3 L732.6,1209.2 L736.0,1210.2 L739.5,1211.5 L742.8,1212.9 L745.6,1214.5 L747.9,1216.2 L749.7,1218.3 L751.4,1221.1 L753.0,1224.3 L754.6,1227.9 L756.1,1231.7 L757.8,1235.5 L759.6,1239.2 L761.8,1242.5 L764.3,1245.6 L767.1,1248.6 L770.0,1251.4 L772.9,1254.1 L775.7,1256.5 L778.2,1258.6 L780.3,1260.4 L781.9,1261.7 L783.0,1262.3 L784.2,1262.3 L785.2,1261.6 L785.8,1260.5 L785.8,1259.3 L785.1,1258.3 L783.6,1256.8 L781.6,1254.9 L779.2,1252.6 L776.6,1250.1 L773.9,1247.4 L771.3,1244.6 L768.9,1241.8 L766.8,1239.1 L765.2,1236.2 L763.7,1232.9 L762.4,1229.2 L761.0,1225.4 L759.6,1221.5 L757.9,1217.7 L755.9,1214.1 L753.3,1210.8 L750.1,1208.1 L746.5,1205.8 L742.7,1203.9 L738.9,1202.3 L735.2,1201.0 L732.0,1199.9 L729.4,1199.0 L727.6,1198.3 Z" fill="#8d6a70" stroke="#8d6a70" stroke-width="1.7" stroke-linejoin="round"/>
<path d="M773.8,1249.1 L775.9,1248.2 L778.6,1246.7 L781.6,1245.0 L784.9,1243.3 L788.2,1241.8 L791.3,1240.8 L794.0,1240.4 L796.0,1240.7 L797.8,1241.8 L799.9,1244.1 L802.2,1247.2 L804.4,1251.0 L806.8,1254.9 L809.2,1258.6 L811.8,1262.0 L814.7,1264.5 L818.0,1266.1 L821.4,1267.1 L824.8,1267.5 L828.2,1267.6 L831.3,1267.5 L834.1,1267.3 L836.3,1267.2 L837.9,1267.2 L838.8,1267.0 L839.5,1266.4 L839.8,1265.5 L839.6,1264.6 L839.0,1263.9 L838.1,1263.6 L836.3,1263.5 L833.9,1263.6 L831.2,1263.6 L828.2,1263.6 L825.2,1263.4 L822.2,1262.9 L819.6,1262.1 L817.3,1260.9 L815.2,1258.9 L813.1,1256.0 L811.0,1252.4 L808.9,1248.4 L806.6,1244.4 L804.2,1240.7 L801.5,1237.6 L798.0,1235.3 L794.1,1234.6 L790.1,1235.0 L786.1,1236.1 L782.3,1237.6 L778.7,1239.3 L775.5,1240.9 L773.0,1242.2 L771.2,1242.9 Z" fill="#8d6a70" stroke="#8d6a70" stroke-width="1.7" stroke-linejoin="round"/>
<circle cx="709" cy="813.8" r="5.0" fill="#8d6a70"/>
<circle cx="656" cy="800" r="4.2" fill="#8d6a70"/>
<circle cx="756" cy="802" r="4.6" fill="#8d6a70"/>
<circle cx="738" cy="763" r="4.2" fill="#8d6a70"/>
<circle cx="760" cy="779" r="4.2" fill="#8d6a70"/>
<circle cx="795" cy="823.5" r="5.0" fill="#8d6a70"/>
<circle cx="833" cy="771" r="4.2" fill="#8d6a70"/>
<circle cx="834" cy="815.7" r="4.2" fill="#8d6a70"/>
<circle cx="705.5" cy="856.7" r="5.3" fill="#8d6a70"/>
<circle cx="639" cy="847" r="4.2" fill="#8d6a70"/>
<circle cx="799" cy="870" r="4.6" fill="#8d6a70"/>
<circle cx="818" cy="882" r="4.2" fill="#8d6a70"/>
<circle cx="712" cy="1194" r="4.6" fill="#8d6a70"/>
<circle cx="573" cy="1175" r="4.2" fill="#8d6a70"/>
<circle cx="701" cy="1202.5" r="4.6" fill="#8d6a70"/>
<circle cx="614" cy="1227" r="4.2" fill="#8d6a70"/>
<circle cx="718" cy="1186" r="4.6" fill="#8d6a70"/>
<circle cx="761.6" cy="1134" r="4.2" fill="#8d6a70"/>
<circle cx="813.5" cy="1139.6" r="4.2" fill="#8d6a70"/>
<circle cx="726" cy="1189" r="4.6" fill="#8d6a70"/>
<circle cx="821.7" cy="1197" r="4.2" fill="#8d6a70"/>
<circle cx="854.5" cy="1189" r="4.2" fill="#8d6a70"/>
<circle cx="726" cy="1202.5" r="5.3" fill="#8d6a70"/>
<circle cx="772.5" cy="1246" r="4.2" fill="#8d6a70"/>
<path d="M701.6,811.8 C705.7,806.6 720.9,807.6 730.0,806.0 C739.1,804.4 748.5,801.0 756.0,802.0 C763.5,803.0 768.5,808.4 775.0,812.0 C781.5,815.6 790.7,818.7 795.0,823.5 C799.3,828.3 800.3,833.2 801.0,841.0 C801.7,848.8 801.7,861.8 799.0,870.0 C796.3,878.2 790.2,883.7 785.0,890.0 C779.8,896.3 773.0,901.0 768.0,908.0 C763.0,915.0 760.7,930.8 755.0,932.0 C749.3,933.2 740.3,923.7 734.0,915.0 C727.7,906.3 723.0,888.1 717.0,880.0 C711.0,871.9 700.5,871.5 697.7,866.5 C694.9,861.5 698.7,854.9 700.0,850.0 C701.3,845.1 705.2,843.4 705.5,837.0 C705.8,830.6 697.5,817.0 701.6,811.8 Z" fill="#8d6a70" stroke="#8d6a70" stroke-width="1.8"/>
<path d="M733.0,912.0 C733.4,919.2 733.9,941.7 735.5,955.4 C737.1,969.1 737.7,984.3 742.5,994.3 C747.3,1004.4 757.9,1009.3 764.3,1015.6 C770.6,1021.9 777.2,1025.9 780.5,1032.2 C783.9,1038.4 787.3,1045.9 784.4,1053.1 C781.4,1060.4 773.9,1069.5 762.6,1075.6 C751.2,1081.7 729.0,1081.6 716.3,1089.8 C703.7,1097.9 691.0,1111.4 686.7,1124.5 C682.5,1137.6 687.2,1156.4 690.7,1168.4 C694.2,1180.4 704.8,1191.6 707.6,1196.3 L715.4,1191.7 C712.9,1187.4 703.5,1176.3 700.3,1165.6 C697.1,1154.9 692.7,1138.8 696.3,1127.5 C699.8,1116.3 709.8,1105.4 721.7,1098.2 C733.5,1091.0 755.4,1091.3 767.4,1084.4 C779.4,1077.5 790.0,1066.3 793.6,1056.9 C797.3,1047.4 793.1,1035.9 789.5,1027.8 C785.8,1019.7 777.7,1014.7 771.7,1008.4 C765.7,1002.0 756.7,998.6 753.5,989.7 C750.3,980.7 752.2,967.5 752.5,954.6 C752.7,941.6 754.6,919.1 755.0,912.0 Z" fill="#8d6a70" stroke="#8d6a70" stroke-width="1.8"/>
<path d="M704.0,1190.0 C706.0,1187.0 715.7,1185.0 720.0,1186.0 C724.3,1187.0 729.0,1192.7 730.0,1196.0 C731.0,1199.3 729.7,1204.7 726.0,1206.0 C722.3,1207.3 711.7,1206.7 708.0,1204.0 C704.3,1201.3 702.0,1193.0 704.0,1190.0 Z" fill="#8d6a70" stroke="#8d6a70" stroke-width="1.8"/>
<path d="M710.6,810.0 L709.2,809.4 L707.2,808.6 L704.9,807.6 L702.2,806.5 L699.4,805.3 L696.5,804.2 L693.6,803.3 L690.9,802.5 L688.3,802.0 L685.8,801.7 L683.4,801.5 L681.1,801.4 L678.8,801.4 L676.7,801.3 L674.6,801.1 L672.6,800.9 L670.5,800.5 L668.3,800.0 L666.0,799.5 L663.8,798.9 L661.7,798.3 L659.7,797.7 L657.8,797.1 L656.0,796.5 L654.5,795.8 L653.1,795.2 L651.8,794.6 L650.6,794.0 L649.6,793.4 L648.6,792.7 L647.6,792.0 L646.7,791.2 L645.8,790.4 L645.0,789.4 L644.1,788.3 L643.3,787.1 L642.6,786.0 L641.9,784.9 L641.3,784.0 L640.8,783.3 L640.0,782.5 L638.9,782.3 L637.8,782.7 L637.0,783.5 L636.8,784.6 L637.2,785.7 L637.5,786.3 L638.1,787.2 L638.7,788.4 L639.4,789.6 L640.3,791.0 L641.2,792.3 L642.2,793.6 L643.3,794.8 L644.4,795.8 L645.5,796.7 L646.7,797.6 L648.0,798.4 L649.3,799.2 L650.7,800.0 L652.3,800.8 L654.0,801.5 L655.8,802.3 L657.8,803.1 L659.9,803.8 L662.2,804.6 L664.5,805.3 L666.8,806.0 L669.1,806.6 L671.4,807.1 L673.8,807.6 L676.1,807.9 L678.4,808.1 L680.7,808.2 L682.9,808.4 L685.0,808.6 L687.1,809.0 L689.1,809.5 L691.3,810.2 L693.8,811.2 L696.4,812.4 L699.1,813.6 L701.6,814.8 L703.9,815.9 L705.9,816.9 L707.4,817.6 Z" fill="#f4b5bf"/>
<path d="M659.4,799.9 L659.3,799.0 L659.2,797.8 L659.0,796.5 L658.9,795.1 L658.8,793.5 L658.7,791.8 L658.7,790.1 L658.8,788.3 L658.9,786.2 L659.2,783.7 L659.6,781.0 L660.0,778.2 L660.4,775.5 L660.8,773.0 L661.1,770.9 L661.4,769.4 L661.3,768.4 L660.8,767.6 L660.0,767.2 L659.0,767.3 L658.2,767.8 L657.8,768.6 L657.5,770.1 L656.9,772.2 L656.3,774.6 L655.6,777.3 L654.9,780.1 L654.2,782.9 L653.7,785.4 L653.2,787.7 L653.0,789.7 L652.8,791.7 L652.7,793.6 L652.6,795.3 L652.6,796.8 L652.6,798.2 L652.6,799.3 L652.6,800.1 Z" fill="#f4b5bf"/>
<path d="M759.6,802.9 L760.0,801.6 L760.4,799.7 L761.1,797.4 L761.7,794.8 L762.3,792.1 L762.9,789.4 L763.3,786.9 L763.4,784.6 L763.3,782.7 L763.1,781.1 L762.8,779.6 L762.2,778.1 L761.5,776.7 L760.6,775.4 L759.6,774.1 L758.4,772.6 L756.9,771.0 L755.0,769.2 L753.0,767.5 L750.8,765.7 L748.6,763.9 L746.4,762.2 L744.4,760.5 L742.4,758.9 L740.6,757.3 L738.7,755.8 L736.8,754.3 L735.0,752.9 L733.3,751.4 L731.7,750.0 L730.1,748.7 L728.8,747.4 L727.6,746.0 L726.6,744.6 L725.6,743.1 L724.6,741.6 L723.6,740.1 L722.7,738.7 L721.6,737.4 L720.2,736.2 L718.7,735.4 L717.2,735.1 L715.7,735.0 L714.3,735.1 L713.1,735.2 L712.1,735.4 L711.4,735.6 L710.9,735.6 L709.9,735.9 L709.2,736.7 L709.0,737.7 L709.3,738.7 L710.1,739.4 L711.1,739.6 L711.9,739.6 L712.8,739.4 L713.7,739.3 L714.7,739.2 L715.6,739.1 L716.5,739.2 L717.2,739.4 L717.8,739.8 L718.4,740.4 L719.1,741.3 L719.9,742.5 L720.7,744.0 L721.6,745.6 L722.7,747.2 L723.8,749.0 L725.2,750.6 L726.7,752.2 L728.3,753.7 L729.9,755.3 L731.7,756.8 L733.4,758.4 L735.2,759.9 L737.0,761.5 L738.8,763.1 L740.7,764.8 L742.7,766.6 L744.9,768.4 L747.0,770.3 L749.0,772.1 L750.8,773.8 L752.3,775.4 L753.6,776.8 L754.6,778.0 L755.3,779.1 L755.9,780.0 L756.2,780.7 L756.4,781.3 L756.5,782.1 L756.6,783.1 L756.6,784.4 L756.4,786.0 L756.1,788.1 L755.5,790.4 L754.8,792.9 L754.1,795.4 L753.4,797.7 L752.8,799.6 L752.4,801.1 Z" fill="#f4b5bf"/>
<path d="M741.4,763.3 L741.4,762.0 L741.5,760.2 L741.5,758.2 L741.5,756.1 L741.6,753.9 L741.9,751.8 L742.3,749.9 L742.9,748.3 L743.9,746.7 L745.3,744.8 L747.0,742.9 L748.9,741.0 L750.8,739.2 L752.6,737.5 L754.1,736.1 L755.2,735.0 L755.7,734.2 L755.8,733.3 L755.3,732.5 L754.5,732.0 L753.6,731.9 L752.8,732.4 L751.7,733.3 L750.1,734.5 L748.1,736.0 L746.0,737.7 L743.8,739.6 L741.7,741.5 L739.8,743.6 L738.3,745.7 L737.2,748.1 L736.4,750.6 L735.8,753.1 L735.4,755.6 L735.2,757.9 L735.0,759.9 L734.8,761.5 L734.6,762.7 Z" fill="#f4b5bf"/>
<path d="M763.1,780.2 L763.5,779.0 L764.0,777.4 L764.6,775.6 L765.2,773.6 L765.8,771.5 L766.6,769.6 L767.3,767.8 L768.0,766.5 L768.9,765.3 L770.0,764.1 L771.2,762.9 L772.5,761.8 L773.8,760.8 L775.0,759.9 L776.1,759.1 L776.9,758.4 L777.4,757.7 L777.6,756.8 L777.2,755.9 L776.5,755.4 L775.6,755.2 L774.7,755.6 L774.0,756.1 L772.9,756.7 L771.5,757.5 L770.0,758.4 L768.5,759.5 L766.9,760.7 L765.3,762.0 L764.0,763.5 L762.7,765.3 L761.6,767.2 L760.6,769.3 L759.6,771.4 L758.7,773.4 L758.0,775.3 L757.3,776.7 L756.9,777.8 Z" fill="#f4b5bf"/>
<path d="M795.8,827.5 L797.3,827.2 L799.4,826.8 L801.8,826.3 L804.6,825.7 L807.4,825.1 L810.3,824.4 L813.1,823.8 L815.7,823.3 L818.0,822.9 L820.4,822.6 L823.1,822.3 L825.8,822.0 L828.5,821.6 L831.2,820.9 L833.8,819.9 L836.2,818.3 L838.1,816.2 L839.6,813.9 L840.8,811.4 L841.7,808.8 L842.4,806.0 L842.8,803.3 L843.0,800.5 L843.0,797.7 L842.4,794.9 L841.4,792.1 L840.1,789.6 L838.7,787.1 L837.3,784.7 L836.0,782.4 L835.1,780.2 L834.6,778.2 L834.3,776.0 L834.4,773.4 L834.6,770.7 L835.0,768.0 L835.5,765.4 L835.9,763.0 L836.3,760.9 L836.6,759.4 L836.5,758.2 L835.8,757.3 L834.8,756.8 L833.6,756.9 L832.7,757.6 L832.2,758.6 L832.0,760.1 L831.5,762.1 L830.9,764.5 L830.4,767.2 L829.8,770.1 L829.5,773.1 L829.3,776.1 L829.4,779.0 L830.1,781.9 L831.2,784.6 L832.4,787.3 L833.8,789.8 L835.0,792.2 L836.1,794.4 L836.8,796.4 L837.0,798.3 L837.0,800.3 L836.7,802.5 L836.3,804.7 L835.7,806.9 L834.9,808.9 L833.9,810.6 L832.9,812.1 L831.8,813.1 L830.7,813.8 L829.2,814.4 L827.3,814.7 L825.0,815.0 L822.5,815.2 L819.8,815.3 L817.0,815.6 L814.3,815.9 L811.7,816.4 L808.9,816.9 L805.9,817.4 L803.1,817.9 L800.3,818.4 L797.8,818.8 L795.8,819.2 L794.2,819.5 Z" fill="#f4b5bf"/>
<path d="M834.3,774.1 L835.6,773.5 L837.4,772.7 L839.5,771.7 L841.8,770.6 L844.2,769.4 L846.6,768.3 L848.9,767.2 L850.9,766.3 L852.8,765.5 L854.8,764.6 L856.7,763.8 L858.6,763.0 L860.4,762.3 L862.0,761.7 L863.3,761.1 L864.3,760.7 L865.1,760.2 L865.5,759.3 L865.4,758.4 L864.9,757.6 L864.0,757.2 L863.1,757.3 L862.0,757.6 L860.7,758.0 L859.0,758.5 L857.2,759.1 L855.2,759.7 L853.2,760.3 L851.1,761.0 L849.1,761.7 L846.9,762.4 L844.6,763.3 L842.0,764.2 L839.5,765.1 L837.1,765.9 L834.9,766.7 L833.1,767.4 L831.7,767.9 Z" fill="#f4b5bf"/>
<path d="M831.7,818.2 L832.6,818.9 L833.7,820.0 L835.1,821.3 L836.7,822.7 L838.5,824.2 L840.5,825.7 L842.5,827.1 L844.7,828.2 L846.9,829.1 L849.1,829.9 L851.6,830.6 L854.1,831.2 L856.6,831.7 L859.1,832.0 L861.6,832.1 L864.0,831.9 L866.3,831.5 L868.5,830.7 L870.5,829.7 L872.5,828.6 L874.3,827.4 L876.0,826.2 L877.7,824.9 L879.3,823.7 L880.9,822.4 L882.6,821.0 L884.2,819.4 L885.8,817.8 L887.2,816.3 L888.4,815.0 L889.5,813.9 L890.3,813.1 L890.7,812.3 L890.7,811.4 L890.3,810.5 L889.5,810.1 L888.6,810.1 L887.7,810.5 L886.9,811.3 L885.8,812.4 L884.5,813.7 L883.0,815.0 L881.5,816.5 L879.9,817.9 L878.3,819.1 L876.7,820.3 L875.1,821.3 L873.4,822.5 L871.8,823.5 L870.1,824.5 L868.4,825.4 L866.7,826.1 L865.1,826.6 L863.4,826.9 L861.6,826.9 L859.7,826.7 L857.5,826.3 L855.4,825.8 L853.2,825.2 L851.1,824.4 L849.1,823.6 L847.3,822.8 L845.7,821.9 L844.2,820.7 L842.6,819.4 L841.1,818.0 L839.6,816.6 L838.3,815.2 L837.2,814.1 L836.3,813.2 Z" fill="#f4b5bf"/>
<path d="M701.8,854.2 L701.1,855.2 L700.5,856.5 L699.8,857.7 L699.1,858.9 L698.4,860.1 L697.7,861.0 L697.0,861.6 L696.1,862.1 L694.7,862.5 L692.9,863.0 L690.8,863.4 L688.6,863.6 L686.3,863.7 L683.9,863.6 L681.5,863.3 L679.2,862.8 L676.8,862.0 L674.3,860.7 L671.5,859.1 L668.6,857.2 L665.6,855.2 L662.5,853.2 L659.3,851.4 L656.1,849.8 L653.0,848.5 L649.9,847.2 L646.8,846.0 L643.6,844.9 L640.4,844.0 L637.3,843.2 L634.2,842.6 L631.2,842.2 L628.1,842.2 L625.0,842.6 L622.0,843.2 L619.2,844.0 L616.6,844.9 L614.3,845.7 L612.5,846.3 L611.1,846.7 L610.0,847.3 L609.4,848.4 L609.4,849.6 L610.0,850.7 L611.1,851.3 L612.3,851.3 L613.8,850.9 L615.8,850.4 L618.1,849.7 L620.6,849.0 L623.2,848.4 L625.8,847.9 L628.4,847.7 L630.8,847.8 L633.3,848.2 L635.9,848.8 L638.7,849.6 L641.6,850.7 L644.5,851.8 L647.5,853.1 L650.4,854.4 L653.3,855.8 L656.0,857.3 L658.8,859.0 L661.7,861.0 L664.6,863.1 L667.6,865.2 L670.6,867.2 L673.7,868.9 L676.8,870.2 L680.0,871.0 L683.1,871.5 L686.1,871.8 L689.0,871.7 L691.9,871.5 L694.5,871.2 L696.9,870.6 L699.3,869.9 L701.6,868.8 L703.7,867.2 L705.3,865.4 L706.5,863.7 L707.5,862.1 L708.3,860.7 L708.8,859.8 L709.2,859.2 Z" fill="#f4b5bf"/>
<path d="M637.5,844.0 L636.8,844.4 L635.9,845.0 L634.7,845.7 L633.4,846.4 L632.0,847.3 L630.6,848.2 L629.4,849.2 L628.3,850.2 L627.4,851.4 L626.8,852.6 L626.3,853.8 L626.0,855.0 L625.7,856.0 L625.6,856.9 L625.4,857.6 L625.3,858.1 L625.2,859.0 L625.6,859.9 L626.4,860.4 L627.3,860.5 L628.2,860.1 L628.7,859.3 L629.0,858.7 L629.2,858.0 L629.6,857.2 L629.9,856.3 L630.3,855.5 L630.8,854.8 L631.2,854.2 L631.7,853.8 L632.4,853.3 L633.4,852.8 L634.7,852.3 L636.0,851.7 L637.4,851.2 L638.6,850.8 L639.7,850.3 L640.5,850.0 Z" fill="#f4b5bf"/>
<path d="M796.9,873.1 L798.4,874.0 L800.4,875.4 L802.9,877.1 L805.7,879.0 L808.7,880.9 L811.8,882.6 L815.0,883.9 L818.3,884.8 L821.5,885.0 L824.8,884.6 L828.1,883.9 L831.2,883.0 L834.2,882.1 L836.8,881.2 L838.9,880.4 L840.5,879.9 L841.4,879.4 L841.9,878.5 L841.9,877.5 L841.4,876.6 L840.5,876.1 L839.5,876.1 L837.8,876.4 L835.5,877.0 L832.9,877.7 L830.0,878.5 L827.1,879.0 L824.2,879.4 L821.5,879.5 L819.3,879.2 L817.2,878.4 L814.7,877.1 L812.1,875.4 L809.5,873.5 L807.0,871.5 L804.7,869.7 L802.7,868.0 L801.1,866.9 Z" fill="#f4b5bf"/>
<path d="M815.2,883.9 L816.1,885.0 L817.2,886.6 L818.6,888.3 L820.1,890.3 L821.7,892.4 L823.2,894.4 L824.6,896.4 L825.8,898.2 L826.8,900.0 L827.9,902.0 L828.9,904.0 L829.9,906.0 L830.8,907.8 L831.5,909.6 L832.2,911.0 L832.7,912.1 L833.3,912.8 L834.2,913.2 L835.1,913.1 L835.8,912.5 L836.2,911.6 L836.1,910.7 L835.6,909.6 L835.1,908.1 L834.5,906.3 L833.8,904.3 L833.0,902.2 L832.1,900.0 L831.2,897.8 L830.2,895.8 L829.1,893.7 L827.8,891.4 L826.5,889.2 L825.1,886.9 L823.7,884.8 L822.5,882.9 L821.5,881.3 L820.8,880.1 Z" fill="#f4b5bf"/>
<path d="M711.3,1190.3 L707.2,1191.2 L701.5,1192.6 L694.9,1194.3 L687.8,1196.1 L680.6,1197.4 L673.9,1198.2 L668.4,1198.1 L664.6,1197.0 L662.1,1194.8 L659.9,1190.9 L658.1,1185.7 L656.7,1179.7 L655.3,1173.4 L653.9,1167.2 L652.1,1161.6 L649.5,1157.2 L646.3,1154.0 L643.1,1151.7 L639.6,1150.0 L636.1,1148.9 L632.5,1148.3 L629.0,1148.0 L625.4,1148.0 L621.8,1148.1 L618.0,1148.5 L614.0,1149.3 L609.8,1150.4 L605.7,1151.8 L601.6,1153.4 L597.7,1155.1 L594.1,1156.9 L590.6,1158.7 L587.6,1160.8 L584.9,1163.2 L582.6,1165.8 L580.5,1168.3 L578.6,1170.7 L576.6,1172.7 L574.5,1174.4 L572.0,1175.7 L568.9,1176.8 L565.4,1177.9 L561.6,1178.7 L557.6,1179.4 L553.7,1179.7 L550.0,1179.7 L546.7,1179.3 L543.9,1178.5 L541.6,1177.1 L539.3,1175.0 L537.1,1172.1 L535.0,1168.9 L533.0,1165.6 L531.1,1162.4 L529.3,1159.6 L527.5,1157.4 L525.7,1155.9 L524.1,1154.9 L522.6,1154.3 L521.2,1154.0 L520.0,1154.0 L519.1,1154.1 L518.7,1154.1 L518.3,1154.0 L517.3,1154.1 L516.4,1154.7 L516.0,1155.7 L516.1,1156.7 L516.7,1157.6 L517.7,1158.0 L518.5,1158.1 L519.3,1158.1 L520.0,1158.0 L520.7,1158.0 L521.4,1158.2 L522.3,1158.5 L523.3,1159.2 L524.5,1160.2 L525.9,1162.0 L527.5,1164.6 L529.3,1167.7 L531.3,1171.2 L533.5,1174.6 L536.0,1177.9 L538.8,1180.7 L542.1,1182.7 L545.7,1183.8 L549.7,1184.3 L553.9,1184.4 L558.1,1184.1 L562.4,1183.5 L566.6,1182.6 L570.4,1181.5 L574.0,1180.3 L577.2,1178.6 L579.9,1176.5 L582.3,1174.1 L584.5,1171.6 L586.5,1169.2 L588.6,1166.9 L590.8,1165.0 L593.4,1163.3 L596.5,1161.7 L600.0,1160.1 L603.7,1158.5 L607.6,1157.1 L611.4,1155.8 L615.2,1154.8 L618.8,1154.2 L622.2,1153.9 L625.4,1153.8 L628.7,1153.9 L631.8,1154.2 L634.7,1154.7 L637.4,1155.6 L639.9,1156.9 L642.3,1158.6 L644.5,1160.8 L646.3,1164.1 L647.8,1168.8 L649.1,1174.7 L650.3,1181.1 L651.8,1187.5 L653.8,1193.6 L656.8,1199.0 L661.4,1203.0 L667.4,1204.9 L674.2,1205.1 L681.6,1204.4 L689.2,1203.1 L696.6,1201.4 L703.3,1199.7 L708.8,1198.4 L712.7,1197.7 Z" fill="#f4b5bf"/>
<path d="M575.9,1173.2 L574.7,1171.5 L573.0,1169.0 L571.1,1166.0 L568.9,1162.7 L566.6,1159.4 L564.5,1156.3 L562.4,1153.6 L560.6,1151.5 L559.0,1150.1 L557.3,1149.1 L555.7,1148.6 L554.2,1148.5 L553.0,1148.6 L552.1,1148.7 L551.5,1148.8 L551.2,1148.8 L550.2,1149.0 L549.5,1149.6 L549.2,1150.4 L549.4,1151.4 L550.0,1152.1 L550.8,1152.4 L551.6,1152.5 L552.5,1152.4 L553.3,1152.4 L554.0,1152.4 L554.7,1152.5 L555.5,1152.8 L556.4,1153.4 L557.4,1154.5 L558.7,1156.3 L560.4,1159.0 L562.2,1162.2 L564.1,1165.6 L566.0,1169.0 L567.6,1172.2 L569.1,1174.9 L570.1,1176.8 Z" fill="#f4b5bf"/>
<path d="M701.1,1198.8 L697.8,1198.7 L693.3,1198.5 L687.8,1198.2 L681.7,1198.0 L675.3,1197.9 L668.9,1198.0 L662.8,1198.5 L657.3,1199.4 L652.3,1200.8 L647.5,1202.8 L642.9,1205.0 L638.6,1207.5 L634.4,1210.0 L630.6,1212.5 L627.0,1214.7 L623.7,1216.6 L620.6,1218.4 L617.9,1220.1 L615.5,1221.7 L613.4,1223.2 L611.4,1224.6 L609.4,1225.7 L607.3,1226.8 L605.0,1227.7 L602.3,1228.3 L599.2,1228.8 L595.9,1229.2 L592.5,1229.4 L589.2,1229.6 L586.0,1229.8 L583.1,1230.1 L580.5,1230.5 L578.4,1231.2 L576.6,1232.1 L575.2,1233.0 L574.1,1234.0 L573.2,1234.9 L572.5,1235.6 L572.1,1236.1 L571.7,1236.5 L571.1,1237.3 L571.0,1238.4 L571.5,1239.3 L572.3,1239.9 L573.4,1240.0 L574.3,1239.5 L574.9,1239.0 L575.6,1238.3 L576.2,1237.6 L576.8,1237.0 L577.6,1236.3 L578.6,1235.7 L579.9,1235.1 L581.5,1234.7 L583.6,1234.3 L586.3,1234.1 L589.4,1234.0 L592.8,1233.9 L596.3,1233.8 L599.8,1233.5 L603.2,1233.1 L606.4,1232.3 L609.2,1231.4 L611.7,1230.2 L614.1,1228.9 L616.3,1227.5 L618.5,1226.1 L620.8,1224.6 L623.3,1223.0 L626.3,1221.4 L629.8,1219.5 L633.5,1217.3 L637.4,1215.0 L641.5,1212.6 L645.7,1210.4 L649.9,1208.4 L654.3,1206.8 L658.7,1205.6 L663.5,1205.0 L669.2,1204.7 L675.2,1204.7 L681.4,1205.0 L687.4,1205.3 L692.8,1205.8 L697.4,1206.1 L700.9,1206.2 Z" fill="#f4b5bf"/>
<path d="M616.7,1225.0 L615.9,1224.0 L614.8,1222.5 L613.4,1220.6 L611.8,1218.5 L610.1,1216.4 L608.2,1214.4 L606.3,1212.7 L604.2,1211.3 L601.9,1210.5 L599.6,1210.2 L597.3,1210.3 L595.1,1210.6 L593.1,1210.9 L591.3,1211.3 L589.9,1211.6 L588.8,1211.7 L588.0,1212.0 L587.4,1212.7 L587.2,1213.7 L587.5,1214.5 L588.2,1215.1 L589.2,1215.3 L590.3,1215.2 L591.9,1215.1 L593.6,1214.9 L595.5,1214.8 L597.4,1214.7 L599.2,1214.9 L600.7,1215.2 L601.8,1215.7 L602.9,1216.6 L604.2,1218.1 L605.6,1219.9 L607.0,1222.0 L608.3,1224.1 L609.4,1226.0 L610.5,1227.8 L611.3,1229.0 Z" fill="#f4b5bf"/>
<path d="M721.1,1188.1 L722.7,1185.7 L725.0,1182.3 L727.6,1178.3 L730.5,1174.0 L733.6,1169.4 L736.7,1164.9 L739.7,1160.7 L742.5,1156.9 L745.0,1153.6 L747.5,1150.4 L749.9,1147.4 L752.3,1144.5 L754.8,1141.7 L757.4,1139.0 L760.2,1136.2 L763.3,1133.4 L766.9,1130.5 L771.1,1127.3 L775.7,1124.1 L780.4,1120.9 L784.9,1117.9 L789.1,1115.2 L792.5,1112.9 L795.1,1111.2 L795.8,1110.4 L796.0,1109.4 L795.7,1108.4 L794.9,1107.7 L793.9,1107.5 L792.9,1107.8 L790.3,1109.5 L786.8,1111.6 L782.6,1114.2 L777.9,1117.1 L773.1,1120.1 L768.3,1123.3 L763.8,1126.4 L759.9,1129.4 L756.6,1132.2 L753.5,1135.0 L750.7,1137.9 L748.0,1140.7 L745.4,1143.6 L742.8,1146.6 L740.2,1149.8 L737.5,1153.1 L734.5,1156.8 L731.3,1161.0 L728.0,1165.5 L724.8,1170.0 L721.7,1174.3 L719.0,1178.2 L716.7,1181.5 L714.9,1183.9 Z" fill="#f4b5bf"/>
<path d="M761.3,1137.4 L765.2,1137.6 L770.5,1138.1 L776.8,1138.7 L783.8,1139.3 L791.2,1139.8 L798.4,1140.1 L805.2,1140.1 L811.3,1139.8 L816.7,1138.9 L821.8,1137.4 L826.6,1135.7 L831.1,1133.8 L835.3,1132.0 L839.2,1130.3 L842.9,1129.1 L846.3,1128.3 L849.6,1128.1 L852.6,1128.2 L855.4,1128.6 L858.2,1129.2 L861.0,1129.9 L863.8,1130.7 L866.6,1131.4 L869.6,1132.0 L872.7,1132.5 L876.0,1133.1 L879.4,1133.6 L882.7,1134.1 L885.8,1134.6 L888.6,1135.1 L890.9,1135.5 L892.7,1135.8 L893.6,1135.7 L894.4,1135.2 L894.8,1134.3 L894.7,1133.4 L894.2,1132.6 L893.3,1132.2 L891.5,1131.9 L889.2,1131.5 L886.4,1130.9 L883.3,1130.4 L880.0,1129.7 L876.7,1129.1 L873.4,1128.5 L870.4,1128.0 L867.6,1127.3 L864.9,1126.6 L862.2,1125.7 L859.3,1124.9 L856.3,1124.2 L853.0,1123.7 L849.5,1123.5 L845.7,1123.7 L841.6,1124.4 L837.5,1125.7 L833.4,1127.3 L829.1,1129.1 L824.7,1130.8 L820.2,1132.3 L815.6,1133.5 L810.7,1134.2 L805.1,1134.4 L798.6,1134.2 L791.6,1133.8 L784.4,1133.1 L777.5,1132.3 L771.1,1131.6 L765.8,1131.0 L761.9,1130.6 Z" fill="#f4b5bf"/>
<path d="M811.8,1142.5 L814.1,1143.8 L817.5,1145.6 L821.6,1147.7 L825.9,1150.0 L830.3,1152.3 L834.3,1154.5 L837.7,1156.3 L840.1,1157.5 L841.0,1157.8 L841.9,1157.6 L842.5,1156.9 L842.8,1156.0 L842.6,1155.1 L841.9,1154.5 L839.7,1153.0 L836.5,1150.8 L832.7,1148.3 L828.6,1145.6 L824.5,1142.8 L820.7,1140.3 L817.5,1138.2 L815.2,1136.7 Z" fill="#f4b5bf"/>
<path d="M727.8,1192.3 L731.4,1190.3 L736.2,1187.4 L741.9,1183.9 L748.1,1180.2 L754.4,1176.7 L760.6,1173.6 L766.1,1171.4 L770.4,1170.3 L773.9,1170.3 L777.0,1171.0 L780.1,1172.3 L783.1,1174.2 L786.0,1176.4 L789.1,1178.8 L792.2,1181.2 L795.4,1183.2 L798.2,1184.9 L800.7,1186.8 L803.1,1188.8 L805.6,1190.8 L808.3,1192.8 L811.3,1194.6 L814.8,1196.0 L818.6,1196.8 L822.9,1197.0 L827.4,1196.6 L832.0,1195.9 L836.8,1194.8 L841.6,1193.7 L846.3,1192.5 L851.0,1191.4 L855.5,1190.5 L860.1,1189.5 L864.8,1188.3 L869.6,1187.0 L874.3,1185.8 L878.7,1184.8 L882.8,1184.1 L886.5,1183.9 L889.5,1184.2 L892.0,1185.1 L894.4,1186.8 L896.7,1189.1 L898.7,1191.7 L900.6,1194.5 L902.2,1197.1 L903.7,1199.4 L904.9,1201.0 L905.7,1201.6 L906.7,1201.8 L907.7,1201.4 L908.3,1200.6 L908.5,1199.6 L908.1,1198.6 L907.0,1197.1 L905.7,1195.0 L904.1,1192.3 L902.1,1189.3 L899.9,1186.3 L897.2,1183.6 L894.1,1181.3 L890.5,1179.8 L886.6,1179.4 L882.3,1179.6 L877.8,1180.2 L873.2,1181.2 L868.4,1182.4 L863.7,1183.6 L859.0,1184.7 L854.5,1185.5 L849.9,1186.4 L845.1,1187.4 L840.4,1188.5 L835.6,1189.6 L831.0,1190.5 L826.7,1191.1 L822.8,1191.4 L819.4,1191.2 L816.5,1190.5 L813.9,1189.4 L811.6,1188.0 L809.3,1186.2 L806.9,1184.2 L804.4,1182.1 L801.6,1179.9 L798.6,1178.0 L795.8,1176.1 L792.9,1173.9 L789.9,1171.5 L786.7,1169.0 L783.1,1166.7 L779.1,1164.8 L774.6,1163.7 L769.6,1163.7 L764.0,1165.0 L757.8,1167.4 L751.2,1170.5 L744.6,1174.1 L738.2,1177.7 L732.4,1181.1 L727.7,1183.8 L724.2,1185.7 Z" fill="#f4b5bf"/>
<path d="M818.6,1198.4 L819.7,1200.4 L821.1,1203.2 L822.9,1206.7 L824.8,1210.4 L826.8,1214.1 L828.5,1217.5 L830.0,1220.3 L831.1,1222.3 L831.6,1223.1 L832.5,1223.4 L833.4,1223.2 L834.2,1222.7 L834.5,1221.8 L834.3,1220.9 L833.5,1218.7 L832.4,1215.7 L831.0,1212.1 L829.6,1208.2 L828.1,1204.3 L826.7,1200.7 L825.6,1197.7 L824.8,1195.6 Z" fill="#f4b5bf"/>
<path d="M852.5,1191.7 L854.4,1193.0 L857.1,1194.7 L860.4,1196.8 L863.9,1199.1 L867.4,1201.4 L870.7,1203.5 L873.4,1205.2 L875.3,1206.5 L876.2,1206.8 L877.1,1206.6 L877.9,1206.1 L878.2,1205.2 L878.0,1204.3 L877.5,1203.5 L875.7,1202.1 L873.2,1200.0 L870.2,1197.6 L867.0,1194.9 L863.7,1192.2 L860.8,1189.8 L858.3,1187.7 L856.5,1186.3 Z" fill="#f4b5bf"/>
<path d="M724.4,1206.7 L726.5,1207.4 L729.4,1208.3 L732.6,1209.2 L736.0,1210.2 L739.5,1211.5 L742.8,1212.9 L745.6,1214.5 L747.9,1216.2 L749.7,1218.3 L751.4,1221.1 L753.0,1224.3 L754.6,1227.9 L756.1,1231.7 L757.8,1235.5 L759.6,1239.2 L761.8,1242.5 L764.3,1245.6 L767.1,1248.6 L770.0,1251.4 L772.9,1254.1 L775.7,1256.5 L778.2,1258.6 L780.3,1260.4 L781.9,1261.7 L783.0,1262.3 L784.2,1262.3 L785.2,1261.6 L785.8,1260.5 L785.8,1259.3 L785.1,1258.3 L783.6,1256.8 L781.6,1254.9 L779.2,1252.6 L776.6,1250.1 L773.9,1247.4 L771.3,1244.6 L768.9,1241.8 L766.8,1239.1 L765.2,1236.2 L763.7,1232.9 L762.4,1229.2 L761.0,1225.4 L759.6,1221.5 L757.9,1217.7 L755.9,1214.1 L753.3,1210.8 L750.1,1208.1 L746.5,1205.8 L742.7,1203.9 L738.9,1202.3 L735.2,1201.0 L732.0,1199.9 L729.4,1199.0 L727.6,1198.3 Z" fill="#f4b5bf"/>
<path d="M773.8,1249.1 L775.9,1248.2 L778.6,1246.7 L781.6,1245.0 L784.9,1243.3 L788.2,1241.8 L791.3,1240.8 L794.0,1240.4 L796.0,1240.7 L797.8,1241.8 L799.9,1244.1 L802.2,1247.2 L804.4,1251.0 L806.8,1254.9 L809.2,1258.6 L811.8,1262.0 L814.7,1264.5 L818.0,1266.1 L821.4,1267.1 L824.8,1267.5 L828.2,1267.6 L831.3,1267.5 L834.1,1267.3 L836.3,1267.2 L837.9,1267.2 L838.8,1267.0 L839.5,1266.4 L839.8,1265.5 L839.6,1264.6 L839.0,1263.9 L838.1,1263.6 L836.3,1263.5 L833.9,1263.6 L831.2,1263.6 L828.2,1263.6 L825.2,1263.4 L822.2,1262.9 L819.6,1262.1 L817.3,1260.9 L815.2,1258.9 L813.1,1256.0 L811.0,1252.4 L808.9,1248.4 L806.6,1244.4 L804.2,1240.7 L801.5,1237.6 L798.0,1235.3 L794.1,1234.6 L790.1,1235.0 L786.1,1236.1 L782.3,1237.6 L778.7,1239.3 L775.5,1240.9 L773.0,1242.2 L771.2,1242.9 Z" fill="#f4b5bf"/>
<circle cx="709" cy="813.8" r="4.1" fill="#f4b5bf"/>
<circle cx="656" cy="800" r="3.4" fill="#f4b5bf"/>
<circle cx="756" cy="802" r="3.8" fill="#f4b5bf"/>
<circle cx="738" cy="763" r="3.4" fill="#f4b5bf"/>
<circle cx="760" cy="779" r="3.4" fill="#f4b5bf"/>
<circle cx="795" cy="823.5" r="4.1" fill="#f4b5bf"/>
<circle cx="833" cy="771" r="3.4" fill="#f4b5bf"/>
<circle cx="834" cy="815.7" r="3.4" fill="#f4b5bf"/>
<circle cx="705.5" cy="856.7" r="4.5" fill="#f4b5bf"/>
<circle cx="639" cy="847" r="3.4" fill="#f4b5bf"/>
<circle cx="799" cy="870" r="3.8" fill="#f4b5bf"/>
<circle cx="818" cy="882" r="3.4" fill="#f4b5bf"/>
<circle cx="712" cy="1194" r="3.8" fill="#f4b5bf"/>
<circle cx="573" cy="1175" r="3.4" fill="#f4b5bf"/>
<circle cx="701" cy="1202.5" r="3.8" fill="#f4b5bf"/>
<circle cx="614" cy="1227" r="3.4" fill="#f4b5bf"/>
<circle cx="718" cy="1186" r="3.8" fill="#f4b5bf"/>
<circle cx="761.6" cy="1134" r="3.4" fill="#f4b5bf"/>
<circle cx="813.5" cy="1139.6" r="3.4" fill="#f4b5bf"/>
<circle cx="726" cy="1189" r="3.8" fill="#f4b5bf"/>
<circle cx="821.7" cy="1197" r="3.4" fill="#f4b5bf"/>
<circle cx="854.5" cy="1189" r="3.4" fill="#f4b5bf"/>
<circle cx="726" cy="1202.5" r="4.5" fill="#f4b5bf"/>
<circle cx="772.5" cy="1246" r="3.4" fill="#f4b5bf"/>
<path d="M701.6,811.8 C705.7,806.6 720.9,807.6 730.0,806.0 C739.1,804.4 748.5,801.0 756.0,802.0 C763.5,803.0 768.5,808.4 775.0,812.0 C781.5,815.6 790.7,818.7 795.0,823.5 C799.3,828.3 800.3,833.2 801.0,841.0 C801.7,848.8 801.7,861.8 799.0,870.0 C796.3,878.2 790.2,883.7 785.0,890.0 C779.8,896.3 773.0,901.0 768.0,908.0 C763.0,915.0 760.7,930.8 755.0,932.0 C749.3,933.2 740.3,923.7 734.0,915.0 C727.7,906.3 723.0,888.1 717.0,880.0 C711.0,871.9 700.5,871.5 697.7,866.5 C694.9,861.5 698.7,854.9 700.0,850.0 C701.3,845.1 705.2,843.4 705.5,837.0 C705.8,830.6 697.5,817.0 701.6,811.8 Z" fill="url(#nsoma)"/>
<path d="M733.0,912.0 C733.4,919.2 733.9,941.7 735.5,955.4 C737.1,969.1 737.7,984.3 742.5,994.3 C747.3,1004.4 757.9,1009.3 764.3,1015.6 C770.6,1021.9 777.2,1025.9 780.5,1032.2 C783.9,1038.4 787.3,1045.9 784.4,1053.1 C781.4,1060.4 773.9,1069.5 762.6,1075.6 C751.2,1081.7 729.0,1081.6 716.3,1089.8 C703.7,1097.9 691.0,1111.4 686.7,1124.5 C682.5,1137.6 687.2,1156.4 690.7,1168.4 C694.2,1180.4 704.8,1191.6 707.6,1196.3 L715.4,1191.7 C712.9,1187.4 703.5,1176.3 700.3,1165.6 C697.1,1154.9 692.7,1138.8 696.3,1127.5 C699.8,1116.3 709.8,1105.4 721.7,1098.2 C733.5,1091.0 755.4,1091.3 767.4,1084.4 C779.4,1077.5 790.0,1066.3 793.6,1056.9 C797.3,1047.4 793.1,1035.9 789.5,1027.8 C785.8,1019.7 777.7,1014.7 771.7,1008.4 C765.7,1002.0 756.7,998.6 753.5,989.7 C750.3,980.7 752.2,967.5 752.5,954.6 C752.7,941.6 754.6,919.1 755.0,912.0 Z" fill="#f4b5bf"/>
<path d="M704.0,1190.0 C706.0,1187.0 715.7,1185.0 720.0,1186.0 C724.3,1187.0 729.0,1192.7 730.0,1196.0 C731.0,1199.3 729.7,1204.7 726.0,1206.0 C722.3,1207.3 711.7,1206.7 708.0,1204.0 C704.3,1201.3 702.0,1193.0 704.0,1190.0 Z" fill="#f4b5bf"/>
<clipPath id="nclip"><path d="M701.6,811.8 C705.7,806.6 720.9,807.6 730.0,806.0 C739.1,804.4 748.5,801.0 756.0,802.0 C763.5,803.0 768.5,808.4 775.0,812.0 C781.5,815.6 790.7,818.7 795.0,823.5 C799.3,828.3 800.3,833.2 801.0,841.0 C801.7,848.8 801.7,861.8 799.0,870.0 C796.3,878.2 790.2,883.7 785.0,890.0 C779.8,896.3 773.0,901.0 768.0,908.0 C763.0,915.0 760.7,930.8 755.0,932.0 C749.3,933.2 740.3,923.7 734.0,915.0 C727.7,906.3 723.0,888.1 717.0,880.0 C711.0,871.9 700.5,871.5 697.7,866.5 C694.9,861.5 698.7,854.9 700.0,850.0 C701.3,845.1 705.2,843.4 705.5,837.0 C705.8,830.6 697.5,817.0 701.6,811.8 Z"/><path d="M733.0,912.0 C733.4,919.2 733.9,941.7 735.5,955.4 C737.1,969.1 737.7,984.3 742.5,994.3 C747.3,1004.4 757.9,1009.3 764.3,1015.6 C770.6,1021.9 777.2,1025.9 780.5,1032.2 C783.9,1038.4 787.3,1045.9 784.4,1053.1 C781.4,1060.4 773.9,1069.5 762.6,1075.6 C751.2,1081.7 729.0,1081.6 716.3,1089.8 C703.7,1097.9 691.0,1111.4 686.7,1124.5 C682.5,1137.6 687.2,1156.4 690.7,1168.4 C694.2,1180.4 704.8,1191.6 707.6,1196.3 L715.4,1191.7 C712.9,1187.4 703.5,1176.3 700.3,1165.6 C697.1,1154.9 692.7,1138.8 696.3,1127.5 C699.8,1116.3 709.8,1105.4 721.7,1098.2 C733.5,1091.0 755.4,1091.3 767.4,1084.4 C779.4,1077.5 790.0,1066.3 793.6,1056.9 C797.3,1047.4 793.1,1035.9 789.5,1027.8 C785.8,1019.7 777.7,1014.7 771.7,1008.4 C765.7,1002.0 756.7,998.6 753.5,989.7 C750.3,980.7 752.2,967.5 752.5,954.6 C752.7,941.6 754.6,919.1 755.0,912.0 Z"/></clipPath>
<g clip-path="url(#nclip)">
<path d="M800,845 C792,870 772,895 758,920 C752,940 751,965 752,990 C748,970 745,950 748,930 C752,905 775,875 800,845 Z" fill="#de8d98" opacity="0.85"/>
<path d="M700,872 C712,880 722,892 728,910 C731,920 733,928 734,935 L740,935 C738,915 730,895 718,882 C712,876 706,873 700,872 Z" fill="#de8d98" opacity="0.6"/>
</g>
<path d="M709.5,812.7 C706.3,811.4 696.5,806.5 690.3,804.8 C684.1,803.2 678.0,804.0 672.2,802.8 C666.4,801.7 659.9,799.7 655.5,797.9 C651.1,796.1 648.4,794.5 645.8,792.1 C643.2,789.8 641.0,785.2 640.0,783.8" fill="none" stroke="#fde4e8" stroke-width="1.1" stroke-linecap="round" opacity="0.9"/>
<path d="M655.0,800.0 C655.0,798.0 654.4,793.1 655.0,787.9 C655.6,782.7 658.0,772.0 658.6,768.8" fill="none" stroke="#fde4e8" stroke-width="1.1" stroke-linecap="round" opacity="0.9"/>
<path d="M754.9,801.8 C755.6,798.9 758.8,789.1 759.0,784.6 C759.1,780.0 758.8,778.6 755.9,774.5 C752.9,770.4 746.0,764.5 741.3,760.2 C736.7,755.8 731.5,752.1 727.8,748.3 C724.2,744.4 722.3,739.1 719.5,737.1 C716.7,735.2 712.5,736.6 711.1,736.5" fill="none" stroke="#fde4e8" stroke-width="1.1" stroke-linecap="round" opacity="0.9"/>
<path d="M737.0,762.8 C737.5,760.1 737.0,751.5 739.8,746.6 C742.5,741.6 751.0,735.3 753.3,733.0" fill="none" stroke="#fde4e8" stroke-width="1.1" stroke-linecap="round" opacity="0.9"/>
<path d="M759.1,778.6 C760.1,776.2 762.6,768.2 765.2,764.4 C767.9,760.7 773.5,757.6 775.2,756.2" fill="none" stroke="#fde4e8" stroke-width="1.1" stroke-linecap="round" opacity="0.9"/>
<path d="M794.8,822.3 C798.1,821.7 808.3,819.6 814.8,818.4 C821.2,817.2 829.3,818.3 833.3,814.9 C837.3,811.5 839.3,804.1 838.9,798.0 C838.5,792.0 831.8,785.3 830.8,778.8 C829.9,772.2 832.8,762.2 833.2,758.9" fill="none" stroke="#fde4e8" stroke-width="1.1" stroke-linecap="round" opacity="0.9"/>
<path d="M832.6,770.1 C835.5,768.9 844.5,765.1 849.6,763.1 C854.8,761.1 861.1,758.9 863.4,758.1" fill="none" stroke="#fde4e8" stroke-width="1.1" stroke-linecap="round" opacity="0.9"/>
<path d="M834.6,814.9 C836.6,816.5 841.6,822.4 846.4,824.6 C851.2,826.9 858.4,829.0 863.6,828.5 C868.7,827.9 873.3,824.1 877.4,821.2 C881.6,818.3 886.5,812.8 888.3,811.1" fill="none" stroke="#fde4e8" stroke-width="1.1" stroke-linecap="round" opacity="0.9"/>
<path d="M704.5,855.9 C703.3,857.4 701.5,863.3 697.2,864.9 C692.8,866.5 685.3,867.5 678.3,865.3 C671.3,863.1 663.1,855.2 655.2,851.6 C647.4,848.0 638.4,844.4 631.1,843.7 C623.8,843.1 614.7,847.0 611.4,847.7" fill="none" stroke="#fde4e8" stroke-width="1.1" stroke-linecap="round" opacity="0.9"/>
<path d="M638.5,846.1 C637.0,847.0 631.4,849.3 629.3,851.4 C627.2,853.4 626.6,857.1 626.1,858.3" fill="none" stroke="#fde4e8" stroke-width="1.1" stroke-linecap="round" opacity="0.9"/>
<path d="M799.6,869.1 C802.8,871.0 812.3,879.7 819.0,881.0 C825.7,882.3 836.3,877.6 839.8,876.9" fill="none" stroke="#fde4e8" stroke-width="1.1" stroke-linecap="round" opacity="0.9"/>
<path d="M818.8,881.5 C820.3,884.0 825.5,891.9 828.0,896.9 C830.4,902.0 832.6,909.3 833.5,911.8" fill="none" stroke="#fde4e8" stroke-width="1.1" stroke-linecap="round" opacity="0.9"/>
<path d="M711.9,1192.9 C703.6,1194.0 673.3,1205.4 662.4,1199.7 C651.6,1193.9 653.4,1167.0 646.7,1158.7 C639.9,1150.4 631.2,1149.7 622.0,1150.0 C612.8,1150.2 599.7,1155.6 591.5,1160.1 C583.2,1164.6 580.6,1173.8 572.6,1177.0 C564.6,1180.3 551.0,1182.9 543.4,1179.7 C535.7,1176.5 530.8,1162.1 526.6,1157.9 C522.4,1153.8 519.7,1155.5 518.4,1155.0" fill="none" stroke="#fde4e8" stroke-width="1.1" stroke-linecap="round" opacity="0.9"/>
<path d="M573.8,1174.5 C571.5,1170.8 563.3,1156.4 559.6,1152.3 C555.8,1148.1 552.7,1150.1 551.3,1149.7" fill="none" stroke="#fde4e8" stroke-width="1.1" stroke-linecap="round" opacity="0.9"/>
<path d="M701.0,1201.4 C693.8,1201.4 670.5,1198.7 657.8,1201.5 C645.0,1204.2 633.2,1213.4 624.5,1218.0 C615.8,1222.6 612.7,1226.7 605.4,1229.0 C598.1,1231.2 586.1,1230.2 580.6,1231.6 C575.1,1232.9 573.8,1236.2 572.4,1237.1" fill="none" stroke="#fde4e8" stroke-width="1.1" stroke-linecap="round" opacity="0.9"/>
<path d="M614.8,1226.4 C612.9,1224.1 607.7,1215.0 603.4,1212.7 C599.1,1210.4 591.4,1212.5 589.0,1212.5" fill="none" stroke="#fde4e8" stroke-width="1.1" stroke-linecap="round" opacity="0.9"/>
<path d="M717.1,1185.4 C720.8,1180.2 731.8,1163.4 739.1,1154.3 C746.4,1145.2 751.8,1138.2 760.9,1130.6 C769.9,1123.0 788.0,1112.3 793.4,1108.6" fill="none" stroke="#fde4e8" stroke-width="1.1" stroke-linecap="round" opacity="0.9"/>
<path d="M761.7,1133.0 C769.9,1133.5 796.8,1137.4 810.9,1136.0 C824.9,1134.7 836.1,1126.2 845.9,1125.0 C855.8,1123.9 862.3,1127.7 870.2,1129.0 C878.0,1130.4 889.3,1132.4 893.2,1133.0" fill="none" stroke="#fde4e8" stroke-width="1.1" stroke-linecap="round" opacity="0.9"/>
<path d="M814.0,1138.7 C818.6,1141.5 836.9,1152.4 841.5,1155.1" fill="none" stroke="#fde4e8" stroke-width="1.1" stroke-linecap="round" opacity="0.9"/>
<path d="M725.5,1188.0 C732.9,1184.3 758.0,1167.4 770.0,1166.0 C782.0,1164.6 789.3,1175.1 797.5,1179.6 C805.7,1184.1 809.6,1191.8 819.2,1193.0 C828.7,1194.2 843.0,1188.9 854.8,1186.9 C866.7,1184.9 881.6,1179.1 890.3,1181.1 C899.1,1183.1 904.5,1196.1 907.3,1199.1" fill="none" stroke="#fde4e8" stroke-width="1.1" stroke-linecap="round" opacity="0.9"/>
<path d="M820.8,1197.4 C822.6,1201.5 830.0,1217.9 831.8,1222.0" fill="none" stroke="#fde4e8" stroke-width="1.1" stroke-linecap="round" opacity="0.9"/>
<path d="M855.1,1188.2 C858.7,1190.9 873.3,1201.5 877.0,1204.2" fill="none" stroke="#fde4e8" stroke-width="1.1" stroke-linecap="round" opacity="0.9"/>
<path d="M726.5,1201.3 C730.5,1203.3 744.0,1206.6 750.3,1213.2 C756.6,1219.7 758.5,1233.0 764.2,1240.6 C769.9,1248.3 781.1,1256.0 784.4,1259.1" fill="none" stroke="#fde4e8" stroke-width="1.1" stroke-linecap="round" opacity="0.9"/>
<path d="M772.2,1245.1 C776.4,1243.8 789.9,1234.4 797.2,1237.2 C804.6,1240.0 809.6,1257.4 816.5,1261.9 C823.3,1266.4 834.5,1264.0 838.1,1264.4" fill="none" stroke="#fde4e8" stroke-width="1.1" stroke-linecap="round" opacity="0.9"/>
<circle cx="730" cy="862.6" r="16.6" fill="#f2b0ba" stroke="#9a7077" stroke-width="1"/>
<path d="M720,868 Q718,852 733,850 Q740,856 732,862 Q726,870 720,868 Z" fill="#dc8e98"/>
<circle cx="733" cy="868" r="3.5" fill="#dc8e98"/>
</g>
<g transform="translate(0,0)">
<path d="M22.2,807.3 C23.1,801.1 26.4,791.2 31.5,785.8 C36.6,780.4 45.4,775.7 53.0,775.0 C60.6,774.3 70.1,777.3 77.3,781.5 C84.5,785.7 90.5,792.6 96.0,800.0 C101.5,807.4 105.1,821.5 110.3,826.0 C115.5,830.5 122.6,830.2 127.4,827.3 C132.2,824.4 133.7,815.2 139.0,808.7 C144.3,802.2 150.7,794.3 159.0,788.6 C167.3,782.9 180.9,775.2 189.0,774.3 C197.1,773.4 203.3,778.2 207.6,783.0 C211.9,787.8 213.6,796.3 214.8,803.0 C216.0,809.7 216.5,818.0 214.8,823.0 C213.1,828.0 212.7,830.1 204.8,833.0 C196.9,835.9 177.1,836.1 167.5,840.2 C157.9,844.3 152.8,848.6 147.5,857.4 C142.2,866.2 141.0,883.9 136.0,893.2 C131.0,902.5 124.6,910.2 117.4,913.3 C110.2,916.4 99.2,914.7 93.0,911.8 C86.8,908.9 84.0,904.6 80.2,896.0 C76.4,887.4 75.5,870.1 70.2,860.3 C65.0,850.5 56.1,843.5 48.7,837.3 C41.3,831.1 30.2,828.0 25.8,823.0 C21.4,818.0 21.2,813.5 22.2,807.3 Z" fill="#f5aab5" stroke="#7d575d" stroke-width="1.4"/>
<path d="M36,830 C55,832 75,840 92,852 C80,842 72,836 62,828 C52,826 44,826 36,830 Z" fill="#dc8f98"/>
<path d="M150,842 C172,836 196,832 208,826 C213,810 212,795 207,786 C208,806 204,818 196,822 C180,828 165,833 150,842 Z" fill="#dc8f98"/>
<path d="M82,898 C95,910 118,912 130,896 C138,880 143,866 148,856 C138,872 130,890 116,897 C104,903 92,902 82,898 Z" fill="#dc8f98"/>
<path d="M27,815 C24,795 38,780 58,778 C72,777 84,784 88,790 C70,786 52,790 40,802 C34,808 30,812 27,815 Z" fill="#fcd6dc"/>
<path d="M148,806 C160,790 180,778 198,777 C206,777 210,782 211,786 C195,784 178,790 160,800 C155,803 151,805 148,806 Z" fill="#fcd6dc"/>
<path d="M84,852 C90,840 104,832 118,832 C104,842 96,858 94,885 C88,875 84,865 84,852 Z" fill="#fcd6dc"/>
<path d="M86,848 C95,835 115,828 130,832 C145,838 150,850 145,862 C140,880 130,898 115,905 C100,908 88,898 86,885 C84,870 84,860 86,848 Z" fill="none" stroke="#e49aa5" stroke-width="1.5"/>
<path d="M66,847 C61,826 78,816 94,818 C100,820 103,825 103,831 C90,833 80,840 73,850 Z" fill="#5d6569" stroke="#5d6569" stroke-width="2" stroke-linejoin="round"/>
<path d="M132,823 C146,815 160,826 160,842 C160,847 158,851 156,852 C150,842 142,834 132,831 Z" fill="#5d6569" stroke="#5d6569" stroke-width="2" stroke-linejoin="round"/>
<circle cx="109.5" cy="894" r="8.6" fill="#5d6569"/>
</g>
<g transform="translate(211,-1)">
<path d="M22.2,807.3 C23.1,801.1 26.4,791.2 31.5,785.8 C36.6,780.4 45.4,775.7 53.0,775.0 C60.6,774.3 70.1,777.3 77.3,781.5 C84.5,785.7 90.5,792.6 96.0,800.0 C101.5,807.4 105.1,821.5 110.3,826.0 C115.5,830.5 122.6,830.2 127.4,827.3 C132.2,824.4 133.7,815.2 139.0,808.7 C144.3,802.2 150.7,794.3 159.0,788.6 C167.3,782.9 180.9,775.2 189.0,774.3 C197.1,773.4 203.3,778.2 207.6,783.0 C211.9,787.8 213.6,796.3 214.8,803.0 C216.0,809.7 216.5,818.0 214.8,823.0 C213.1,828.0 212.7,830.1 204.8,833.0 C196.9,835.9 177.1,836.1 167.5,840.2 C157.9,844.3 152.8,848.6 147.5,857.4 C142.2,866.2 141.0,883.9 136.0,893.2 C131.0,902.5 124.6,910.2 117.4,913.3 C110.2,916.4 99.2,914.7 93.0,911.8 C86.8,908.9 84.0,904.6 80.2,896.0 C76.4,887.4 75.5,870.1 70.2,860.3 C65.0,850.5 56.1,843.5 48.7,837.3 C41.3,831.1 30.2,828.0 25.8,823.0 C21.4,818.0 21.2,813.5 22.2,807.3 Z" fill="#f5aab5" stroke="#7d575d" stroke-width="1.4"/>
<path d="M36,830 C55,832 75,840 92,852 C80,842 72,836 62,828 C52,826 44,826 36,830 Z" fill="#dc8f98"/>
<path d="M150,842 C172,836 196,832 208,826 C213,810 212,795 207,786 C208,806 204,818 196,822 C180,828 165,833 150,842 Z" fill="#dc8f98"/>
<path d="M82,898 C95,910 118,912 130,896 C138,880 143,866 148,856 C138,872 130,890 116,897 C104,903 92,902 82,898 Z" fill="#dc8f98"/>
<path d="M27,815 C24,795 38,780 58,778 C72,777 84,784 88,790 C70,786 52,790 40,802 C34,808 30,812 27,815 Z" fill="#fcd6dc"/>
<path d="M148,806 C160,790 180,778 198,777 C206,777 210,782 211,786 C195,784 178,790 160,800 C155,803 151,805 148,806 Z" fill="#fcd6dc"/>
<path d="M84,852 C90,840 104,832 118,832 C104,842 96,858 94,885 C88,875 84,865 84,852 Z" fill="#fcd6dc"/>
<path d="M86,848 C95,835 115,828 130,832 C145,838 150,850 145,862 C140,880 130,898 115,905 C100,908 88,898 86,885 C84,870 84,860 86,848 Z" fill="none" stroke="#e49aa5" stroke-width="1.5"/>
<path d="M66,847 C61,826 78,816 94,818 C100,820 103,825 103,831 C90,833 80,840 73,850 Z" fill="#d3d3d3" stroke="#d3d3d3" stroke-width="2" stroke-linejoin="round"/>
<path d="M132,823 C146,815 160,826 160,842 C160,847 158,851 156,852 C150,842 142,834 132,831 Z" fill="#d3d3d3" stroke="#d3d3d3" stroke-width="2" stroke-linejoin="round"/>
<circle cx="109.5" cy="894" r="8.6" fill="#5d6569"/>
</g>
<g>
<path d="M171.0,1042.7 C174.9,1041.4 178.9,1039.1 182.8,1038.8 C186.7,1038.5 191.3,1038.8 194.6,1040.8 C197.9,1042.8 200.4,1046.7 202.5,1050.6 C204.6,1054.5 206.2,1059.2 207.4,1064.4 C208.6,1069.6 208.7,1082.0 209.5,1082.0 C210.3,1082.0 210.9,1070.3 212.4,1064.4 C213.9,1058.5 215.4,1051.0 218.3,1046.7 C221.2,1042.4 226.1,1039.8 230.0,1038.8 C233.9,1037.8 238.7,1039.2 242.0,1040.8 C245.3,1042.4 247.2,1047.4 249.8,1048.6 C252.4,1049.8 254.4,1047.0 257.7,1047.7 C261.0,1048.4 266.9,1049.8 269.5,1052.6 C272.1,1055.4 272.5,1061.0 273.5,1064.4 C274.5,1067.8 273.2,1071.0 275.5,1073.0 C277.8,1075.0 283.7,1073.8 287.3,1076.3 C290.9,1078.8 295.2,1083.4 297.2,1088.0 C299.2,1092.6 299.1,1098.8 299.2,1103.8 C299.2,1108.8 296.5,1113.1 297.5,1117.7 C298.5,1122.3 303.1,1126.0 305.0,1131.5 C306.9,1137.0 308.7,1143.8 309.0,1151.0 C309.3,1158.2 307.9,1168.7 307.0,1175.0 C306.1,1181.3 303.8,1184.1 303.5,1188.7 C303.2,1193.3 305.1,1196.6 305.0,1202.5 C304.9,1208.4 304.6,1218.1 303.0,1224.0 C301.4,1229.9 298.6,1234.6 295.3,1238.0 C292.1,1241.4 287.1,1242.2 283.5,1244.5 C279.9,1246.8 277.1,1248.2 273.5,1251.7 C269.9,1255.2 266.3,1262.2 261.7,1265.5 C257.1,1268.8 251.9,1270.8 246.0,1271.5 C240.1,1272.2 231.3,1271.6 226.0,1269.6 C220.7,1267.6 217.2,1263.6 214.4,1259.7 C211.6,1255.8 211.1,1246.0 209.4,1246.0 C207.8,1246.0 207.3,1255.8 204.5,1259.7 C201.7,1263.6 197.9,1267.6 192.7,1269.6 C187.4,1271.6 178.9,1272.2 173.0,1271.5 C167.1,1270.8 161.3,1268.5 157.0,1265.5 C152.7,1262.5 151.2,1257.0 147.3,1253.7 C143.4,1250.4 138.1,1249.1 133.5,1245.8 C128.9,1242.5 122.8,1239.2 119.7,1234.0 C116.6,1228.8 115.5,1220.5 114.8,1214.3 C114.1,1208.1 116.4,1202.5 115.3,1196.6 C114.2,1190.7 109.1,1186.4 107.9,1178.8 C106.7,1171.2 107.2,1159.1 107.9,1151.2 C108.6,1143.3 110.0,1136.8 111.8,1131.5 C113.6,1126.2 117.8,1123.5 118.5,1119.6 C119.2,1115.6 116.1,1112.7 115.8,1107.8 C115.5,1102.9 115.2,1095.0 116.8,1090.0 C118.4,1085.0 121.8,1080.8 125.6,1078.0 C129.4,1075.2 136.4,1075.6 139.4,1073.3 C142.4,1071.0 141.8,1067.9 143.4,1064.4 C145.1,1061.0 146.7,1055.5 149.3,1052.6 C151.9,1049.6 155.5,1048.3 159.1,1046.7 C162.7,1045.1 167.1,1044.0 171.0,1042.7 Z" fill="#f5aab5" stroke="#8a5f66" stroke-width="1.2"/>
<path d="M118,1200 C125,1235 140,1245 160,1250 C140,1238 128,1220 124,1195 Z" fill="#dc8f98"/>
<path d="M300,1195 C296,1230 282,1245 262,1250 C282,1236 292,1220 296,1192 Z" fill="#dc8f98"/>
<path d="M150,1256 C165,1270 190,1272 205,1256 C190,1262 168,1262 150,1256 Z" fill="#dc8f98"/>
<path d="M213,1255 C228,1270 252,1270 268,1258 C250,1263 230,1262 213,1255 Z" fill="#dc8f98"/>
<path d="M112,1145 C112,1165 118,1180 130,1188 C122,1172 118,1160 116,1142 Z" fill="#dc8f98"/>
<path d="M305,1145 C306,1165 300,1180 290,1188 C298,1170 300,1160 300,1142 Z" fill="#dc8f98"/>
<path d="M132,1110 C140,1120 155,1122 165,1112 C152,1116 142,1115 132,1110 Z" fill="#dc8f98"/>
<path d="M262,1098 C272,1112 288,1116 298,1108 C285,1110 272,1106 262,1098 Z" fill="#dc8f98"/>
<path d="M180,1050 C188,1042 200,1042 204,1052 C196,1048 188,1048 180,1056 Z" fill="#fcd3da"/>
<path d="M222,1052 C228,1042 242,1040 248,1050 C240,1046 230,1048 222,1058 Z" fill="#fcd3da"/>
<path d="M158,1062 C162,1052 172,1050 176,1056 C168,1056 164,1060 160,1070 Z" fill="#fcd3da"/>
<path d="M258,1058 C264,1052 272,1054 274,1062 C268,1058 264,1060 260,1066 Z" fill="#fcd3da"/>
<path d="M120,1130 C124,1118 134,1114 140,1118 C132,1122 126,1130 124,1145 Z" fill="#fcd3da"/>
<path d="M288,1122 C294,1130 298,1140 298,1155 C294,1145 290,1135 284,1128 Z" fill="#fcd3da"/>
<path d="M120,1210 C124,1195 134,1188 144,1190 C136,1196 128,1205 126,1222 Z" fill="#fcd3da"/>
<path d="M280,1195 C288,1200 294,1210 294,1222 C290,1212 284,1205 276,1202 Z" fill="#fcd3da"/>
<path d="M160,1240 C166,1228 178,1224 186,1230 C176,1232 168,1238 164,1250 Z" fill="#fcd3da"/>
<path d="M230,1230 C238,1224 250,1226 256,1236 C248,1234 240,1234 232,1240 Z" fill="#fcd3da"/>
<path d="M124,1086 C130,1078 142,1076 150,1080 C140,1082 132,1086 128,1095 Z" fill="#fcd3da"/>
<path d="M210,1083 L210,1150" fill="none" stroke="#8a5f66" stroke-width="1.1" stroke-linecap="round"/>
<path d="M150,1075 C128,1082 122,1102 136,1112 C150,1118 158,1104 150,1096 C144,1092 140,1098 142,1102" fill="none" stroke="#8a5f66" stroke-width="1.1" stroke-linecap="round"/>
<path d="M178,1044 C184,1060 186,1075 178,1090 C172,1100 166,1110 170,1125" fill="none" stroke="#8a5f66" stroke-width="1.1" stroke-linecap="round"/>
<path d="M246,1048 C240,1062 238,1075 245,1088 C250,1095 258,1100 262,1112" fill="none" stroke="#8a5f66" stroke-width="1.1" stroke-linecap="round"/>
<path d="M277,1070 C270,1080 262,1085 255,1082" fill="none" stroke="#8a5f66" stroke-width="1.1" stroke-linecap="round"/>
<path d="M118,1122 C135,1128 150,1135 158,1150 C165,1165 160,1180 165,1200" fill="none" stroke="#8a5f66" stroke-width="1.1" stroke-linecap="round"/>
<path d="M300,1122 C285,1128 270,1135 262,1150 C256,1165 262,1180 256,1200" fill="none" stroke="#8a5f66" stroke-width="1.1" stroke-linecap="round"/>
<path d="M115,1195 C130,1190 145,1195 150,1210 C154,1225 158,1240 150,1256" fill="none" stroke="#8a5f66" stroke-width="1.1" stroke-linecap="round"/>
<path d="M305,1200 C290,1192 275,1198 270,1212 C266,1225 262,1240 268,1260" fill="none" stroke="#8a5f66" stroke-width="1.1" stroke-linecap="round"/>
<path d="M180,1205 C190,1215 196,1232 194,1262" fill="none" stroke="#8a5f66" stroke-width="1.1" stroke-linecap="round"/>
<path d="M240,1205 C230,1215 226,1232 228,1262" fill="none" stroke="#8a5f66" stroke-width="1.1" stroke-linecap="round"/>
<path d="M180,1205 C172,1195 168,1185 172,1170" fill="none" stroke="#8a5f66" stroke-width="1.1" stroke-linecap="round"/>
<path d="M240,1205 C248,1195 252,1185 248,1170" fill="none" stroke="#8a5f66" stroke-width="1.1" stroke-linecap="round"/>
<g transform="translate(210,1160) scale(0.45) translate(-118,-845)">
<path d="M22.2,807.3 C23.1,801.1 26.4,791.2 31.5,785.8 C36.6,780.4 45.4,775.7 53.0,775.0 C60.6,774.3 70.1,777.3 77.3,781.5 C84.5,785.7 90.5,792.6 96.0,800.0 C101.5,807.4 105.1,821.5 110.3,826.0 C115.5,830.5 122.6,830.2 127.4,827.3 C132.2,824.4 133.7,815.2 139.0,808.7 C144.3,802.2 150.7,794.3 159.0,788.6 C167.3,782.9 180.9,775.2 189.0,774.3 C197.1,773.4 203.3,778.2 207.6,783.0 C211.9,787.8 213.6,796.3 214.8,803.0 C216.0,809.7 216.5,818.0 214.8,823.0 C213.1,828.0 212.7,830.1 204.8,833.0 C196.9,835.9 177.1,836.1 167.5,840.2 C157.9,844.3 152.8,848.6 147.5,857.4 C142.2,866.2 141.0,883.9 136.0,893.2 C131.0,902.5 124.6,910.2 117.4,913.3 C110.2,916.4 99.2,914.7 93.0,911.8 C86.8,908.9 84.0,904.6 80.2,896.0 C76.4,887.4 75.5,870.1 70.2,860.3 C65.0,850.5 56.1,843.5 48.7,837.3 C41.3,831.1 30.2,828.0 25.8,823.0 C21.4,818.0 21.2,813.5 22.2,807.3 Z" fill="#f5aab5" stroke="#8a5f66" stroke-width="2.4"/>
<path d="M27,815 C24,795 38,780 58,778 C72,777 84,784 88,790 C70,786 52,790 40,802 C34,808 30,812 27,815 Z" fill="#fcd6dc"/>
<path d="M148,806 C160,790 180,778 198,777 C206,777 210,782 211,786 C195,784 178,790 160,800 C155,803 151,805 148,806 Z" fill="#fcd6dc"/>
<path d="M82,898 C95,910 118,912 130,896 C138,880 143,866 148,856 C138,872 130,890 116,897 C104,903 92,902 82,898 Z" fill="#dc8f98"/>
<path d="M65,848 C60,826 78,815 94,817 C101,819 104,825 104,832 C90,833 80,840 73,851 Z" fill="#5d6569"/>
<path d="M131,823 C146,814 161,826 161,842 C161,848 159,852 157,853 C150,842 142,834 131,832 Z" fill="#5d6569"/>
<circle cx="109.5" cy="894" r="8.6" fill="#5d6569"/>
</g>
</g>
<line x1="365" y1="821" x2="508" y2="711" stroke="#111" stroke-width="2.4" fill="none"/>
<line x1="362" y1="858" x2="508" y2="1290" stroke="#111" stroke-width="2.4" fill="none"/>
<circle cx="361.8" cy="839.5" r="18.6" fill="none" stroke="#111" stroke-width="2.4"/>
<line x1="781" y1="867.5" x2="1091" y2="772" stroke="#111" stroke-width="2.4" fill="none"/>
<line x1="781" y1="930.5" x2="1091" y2="1230" stroke="#111" stroke-width="2.4" fill="none"/>
<circle cx="781.5" cy="899" r="31.5" fill="none" stroke="#111" stroke-width="2.4"/>
<line x1="3.5" y1="931" x2="160" y2="1144" stroke="#111" stroke-width="2.4" fill="none"/>
<line x1="439.5" y1="931" x2="259" y2="1150" stroke="#111" stroke-width="2.4" fill="none"/>
<circle cx="209.4" cy="1154" r="50.3" fill="none" stroke="#111" stroke-width="2.4"/></svg>
</body></html>
